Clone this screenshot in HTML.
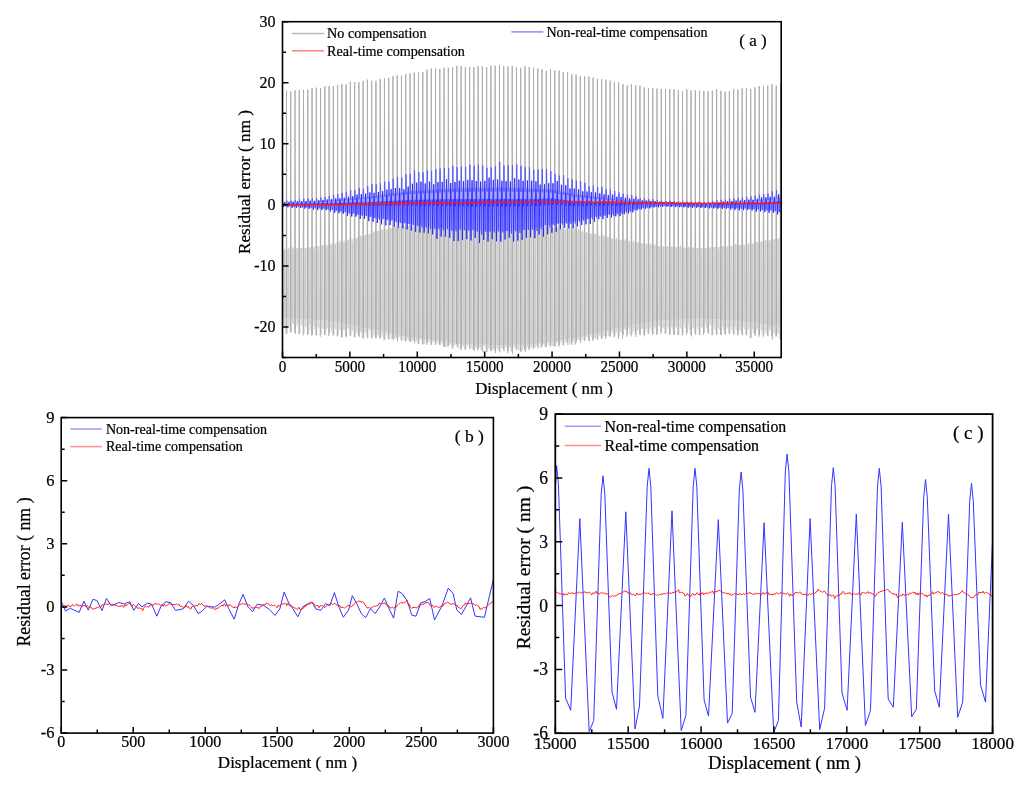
<!DOCTYPE html>
<html><head><meta charset="utf-8"><title>Residual error</title>
<style>html,body{margin:0;padding:0;background:#fff;} svg{display:block;}</style></head>
<body>
<svg width="1024" height="786" viewBox="0 0 1024 786">
<rect width="1024" height="786" fill="#fff"/>
<polygon points="282.5,249.3 284.5,249.17 286.5,249.05 288.5,248.92 290.5,248.8 292.5,248.67 294.5,248.55 296.5,248.42 298.5,248.3 300.5,248.17 302.5,248.04 304.5,247.92 306.5,247.79 308.5,247.49 310.5,247.2 312.5,246.9 314.5,246.6 316.5,246.31 318.5,246.01 320.5,245.72 322.5,245.42 324.5,245.13 326.5,244.83 328.5,244.54 330.5,244.24 332.5,243.77 334.5,243.27 336.5,242.77 338.5,242.27 340.5,241.77 342.5,241.27 344.5,240.77 346.5,240.27 348.5,239.77 350.5,239.27 352.5,238.77 354.5,238.27 356.5,237.71 358.5,237.12 360.5,236.52 362.5,235.92 364.5,235.33 366.5,234.73 368.5,234.14 370.5,233.54 372.5,232.95 374.5,232.35 376.5,231.75 378.5,231.16 380.5,230.63 382.5,230.19 384.5,229.76 386.5,229.32 388.5,228.88 390.5,228.45 392.5,228.01 394.5,227.58 396.5,227.14 398.5,226.95 400.5,226.78 402.5,226.62 404.5,226.45 406.5,226.29 408.5,226.12 410.5,225.96 412.5,225.79 414.5,225.62 416.5,225.49 418.5,225.44 420.5,225.38 422.5,225.33 424.5,225.28 426.5,225.23 428.5,225.18 430.5,225.13 432.5,225.08 434.5,225.03 436.5,224.97 438.5,224.92 440.5,224.87 442.5,224.82 444.5,224.77 446.5,224.72 448.5,224.67 450.5,224.62 452.5,224.56 454.5,224.51 456.5,224.5 458.5,224.5 460.5,224.5 462.5,224.5 464.5,224.5 466.5,224.5 468.5,224.5 470.5,224.5 472.5,224.5 474.5,224.5 476.5,224.5 478.5,224.5 480.5,224.5 482.5,224.5 484.5,224.5 486.5,224.5 488.5,224.5 490.5,224.5 492.5,224.5 494.5,224.5 496.5,224.5 498.5,224.51 500.5,224.57 502.5,224.63 504.5,224.69 506.5,224.75 508.5,224.81 510.5,224.87 512.5,224.93 514.5,224.99 516.5,225.04 518.5,225.1 520.5,225.16 522.5,225.22 524.5,225.28 526.5,225.34 528.5,225.4 530.5,225.46 532.5,225.55 534.5,225.77 536.5,225.99 538.5,226.21 540.5,226.43 542.5,226.65 544.5,226.87 546.5,227.08 548.5,227.3 550.5,227.52 552.5,227.74 554.5,227.96 556.5,228.18 558.5,228.39 560.5,228.61 562.5,228.83 564.5,229.05 566.5,229.27 568.5,229.49 570.5,229.71 572.5,229.92 574.5,230.29 576.5,230.73 578.5,231.17 580.5,231.61 582.5,232.05 584.5,232.48 586.5,232.92 588.5,233.36 590.5,233.8 592.5,234.24 594.5,234.68 596.5,235.12 598.5,235.56 600.5,236 602.5,236.44 604.5,236.88 606.5,237.32 608.5,237.76 610.5,238.2 612.5,238.64 614.5,239.08 616.5,239.52 618.5,239.84 620.5,240.16 622.5,240.49 624.5,240.81 626.5,241.13 628.5,241.46 630.5,241.78 632.5,242.1 634.5,242.43 636.5,242.75 638.5,243.07 640.5,243.4 642.5,243.72 644.5,244.04 646.5,244.37 648.5,244.69 650.5,245.01 652.5,245.34 654.5,245.66 656.5,245.98 658.5,246.31 660.5,246.53 662.5,246.61 664.5,246.69 666.5,246.77 668.5,246.85 670.5,246.92 672.5,247 674.5,247.08 676.5,247.16 678.5,247.24 680.5,247.32 682.5,247.4 684.5,247.48 686.5,247.55 688.5,247.63 690.5,247.71 692.5,247.79 694.5,247.87 696.5,247.95 698.5,248.03 700.5,248.11 702.5,248.18 704.5,248.06 706.5,247.89 708.5,247.72 710.5,247.55 712.5,247.38 714.5,247.21 716.5,247.04 718.5,246.86 720.5,246.69 722.5,246.52 724.5,246.35 726.5,246.18 728.5,246.01 730.5,245.84 732.5,245.66 734.5,245.49 736.5,245.32 738.5,245.15 740.5,244.98 742.5,244.81 744.5,244.64 746.5,244.43 748.5,244.06 750.5,243.69 752.5,243.31 754.5,242.94 756.5,242.57 758.5,242.2 760.5,241.83 762.5,241.46 764.5,241.09 766.5,240.72 768.5,240.35 770.5,239.98 772.5,239.61 774.5,239.24 776.5,238.87 778.5,238.5 780.5,238.13 780.5,327 778.5,326.65 776.5,326.3 774.5,325.95 772.5,325.6 770.5,325.26 768.5,324.91 766.5,324.56 764.5,324.21 762.5,323.86 760.5,323.51 758.5,323.16 756.5,322.81 754.5,322.47 752.5,322.12 750.5,321.77 748.5,321.42 746.5,321.07 744.5,320.89 742.5,320.75 740.5,320.61 738.5,320.47 736.5,320.33 734.5,320.19 732.5,320.06 730.5,319.92 728.5,319.78 726.5,319.64 724.5,319.5 722.5,319.36 720.5,319.22 718.5,319.08 716.5,318.94 714.5,318.81 712.5,318.67 710.5,318.53 708.5,318.39 706.5,318.25 704.5,318.11 702.5,318.02 700.5,318.11 698.5,318.2 696.5,318.3 694.5,318.39 692.5,318.48 690.5,318.57 688.5,318.67 686.5,318.76 684.5,318.85 682.5,318.94 680.5,319.04 678.5,319.13 676.5,319.22 674.5,319.31 672.5,319.41 670.5,319.5 668.5,319.59 666.5,319.69 664.5,319.78 662.5,319.87 660.5,319.96 658.5,320.22 656.5,320.59 654.5,320.96 652.5,321.33 650.5,321.7 648.5,322.07 646.5,322.44 644.5,322.81 642.5,323.18 640.5,323.55 638.5,323.92 636.5,324.29 634.5,324.66 632.5,325.03 630.5,325.39 628.5,325.76 626.5,326.13 624.5,326.5 622.5,326.87 620.5,327.24 618.5,327.61 616.5,327.98 614.5,328.44 612.5,328.9 610.5,329.37 608.5,329.83 606.5,330.29 604.5,330.75 602.5,331.22 600.5,331.68 598.5,332.14 596.5,332.61 594.5,333.07 592.5,333.53 590.5,334 588.5,334.46 586.5,334.92 584.5,335.38 582.5,335.85 580.5,336.31 578.5,336.77 576.5,337.24 574.5,337.7 572.5,338.1 570.5,338.39 568.5,338.68 566.5,338.98 564.5,339.27 562.5,339.56 560.5,339.85 558.5,340.14 556.5,340.43 554.5,340.72 552.5,341.01 550.5,341.31 548.5,341.6 546.5,341.89 544.5,342.18 542.5,342.47 540.5,342.76 538.5,343.05 536.5,343.34 534.5,343.64 532.5,343.93 530.5,344.04 528.5,344.1 526.5,344.16 524.5,344.22 522.5,344.28 520.5,344.34 518.5,344.4 516.5,344.46 514.5,344.52 512.5,344.58 510.5,344.64 508.5,344.7 506.5,344.76 504.5,344.82 502.5,344.88 500.5,344.93 498.5,344.99 496.5,344.92 494.5,344.82 492.5,344.73 490.5,344.64 488.5,344.55 486.5,344.45 484.5,344.36 482.5,344.27 480.5,344.18 478.5,344.09 476.5,343.99 474.5,343.9 472.5,343.81 470.5,343.72 468.5,343.62 466.5,343.53 464.5,343.44 462.5,343.35 460.5,343.25 458.5,343.16 456.5,343.07 454.5,342.93 452.5,342.65 450.5,342.38 448.5,342.1 446.5,341.82 444.5,341.54 442.5,341.26 440.5,340.99 438.5,340.71 436.5,340.43 434.5,340.15 432.5,339.88 430.5,339.6 428.5,339.32 426.5,339.04 424.5,338.76 422.5,338.49 420.5,338.21 418.5,337.93 416.5,337.65 414.5,337.38 412.5,337.1 410.5,336.73 408.5,336.31 406.5,335.9 404.5,335.48 402.5,335.07 400.5,334.65 398.5,334.24 396.5,333.82 394.5,333.4 392.5,332.99 390.5,332.57 388.5,332.16 386.5,331.74 384.5,331.33 382.5,330.91 380.5,330.49 378.5,330.08 376.5,329.66 374.5,329.25 372.5,328.83 370.5,328.42 368.5,328 366.5,327.63 364.5,327.26 362.5,326.9 360.5,326.53 358.5,326.16 356.5,325.79 354.5,325.43 352.5,325.06 350.5,324.69 348.5,324.32 346.5,323.95 344.5,323.59 342.5,323.22 340.5,322.85 338.5,322.48 336.5,322.11 334.5,321.75 332.5,321.38 330.5,321.01 328.5,320.64 326.5,320.28 324.5,319.96 322.5,319.82 320.5,319.68 318.5,319.54 316.5,319.4 314.5,319.26 312.5,319.12 310.5,318.98 308.5,318.84 306.5,318.69 304.5,318.55 302.5,318.41 300.5,318.27 298.5,318.13 296.5,317.99 294.5,317.85 292.5,317.71 290.5,317.56 288.5,317.42 286.5,317.28 284.5,317.14 282.5,317" fill="#e0e0e0"/>
<path d="M285.56,250.11V316.22M289.82,249.84V316.52M294.08,249.57V316.82M298.34,249.31V317.12M302.6,249.04V317.42M306.86,248.73V317.72M311.11,248.1V318.02M315.37,247.48V318.32M319.63,246.85V318.62M323.89,246.22V318.92M328.15,245.59V319.58M332.41,244.8V320.36M336.67,243.73V321.15M340.92,242.67V321.93M345.18,241.6V322.71M349.44,240.54V323.5M353.7,239.47V324.28M357.96,238.28V325.06M362.22,237.01V325.84M366.48,235.74V326.63M370.74,234.47V327.46M374.99,233.2V328.35M379.25,231.93V329.23M383.51,230.97V330.12M387.77,230.04V331.01M392.03,229.12V331.89M396.29,228.19V332.78M400.55,227.78V333.66M404.8,227.43V334.55M409.06,227.08V335.43M413.32,226.72V336.21M417.58,226.46V336.8M421.84,226.35V337.39M426.1,226.24V337.99M430.36,226.13V338.58M434.61,226.02V339.17M438.87,225.91V339.76M443.13,225.8V340.35M447.39,225.7V340.94M451.65,225.59V341.53M455.91,225.5V342.04M460.17,225.5V342.24M464.42,225.5V342.44M468.68,225.5V342.63M472.94,225.5V342.83M477.2,225.5V343.03M481.46,225.5V343.22M485.72,225.5V343.42M489.98,225.5V343.62M494.23,225.5V343.81M498.49,225.51V343.99M502.75,225.64V343.87M507.01,225.77V343.74M511.27,225.89V343.62M515.53,226.02V343.49M519.79,226.14V343.36M524.04,226.27V343.24M528.3,226.39V343.11M532.56,226.56V342.92M536.82,227.03V342.3M541.08,227.49V341.68M545.34,227.96V341.06M549.6,228.42V340.44M553.85,228.89V339.82M558.11,229.35V339.2M562.37,229.82V338.58M566.63,230.28V337.96M570.89,230.75V337.34M575.15,231.43V336.55M579.41,232.36V335.56M583.67,233.3V334.58M587.92,234.24V333.59M592.18,235.17V332.61M596.44,236.11V331.62M600.7,237.05V330.63M604.96,237.98V329.65M609.22,238.92V328.66M613.48,239.86V327.68M617.73,240.72V326.75M621.99,241.4V325.97M626.25,242.09V325.18M630.51,242.78V324.39M634.77,243.47V323.61M639.03,244.16V322.82M643.29,244.85V322.03M647.54,245.53V321.25M651.8,246.22V320.46M656.06,246.91V319.67M660.32,247.52V318.97M664.58,247.69V318.77M668.84,247.86V318.58M673.1,248.03V318.38M677.35,248.19V318.18M681.61,248.36V317.99M685.87,248.53V317.79M690.13,248.7V317.59M694.39,248.87V317.39M698.65,249.03V317.2M702.91,249.2V317M707.16,248.83V317.3M711.42,248.47V317.59M715.68,248.11V317.89M719.94,247.74V318.18M724.2,247.38V318.48M728.46,247.01V318.77M732.72,246.65V319.07M736.97,246.28V319.37M741.23,245.92V319.66M745.49,245.55V319.96M749.75,244.82V320.64M754.01,244.04V321.38M758.27,243.25V322.12M762.53,242.46V322.87M766.78,241.67V323.61M771.04,240.88V324.35M775.3,240.09V325.09M779.56,239.3V325.84" fill="none" stroke="#f2f2f2" stroke-width="0.6"/>
<path d="M283.97,325.16L284.37,250.91L284.77,325.91M288.23,325.49L288.63,247.93L289.03,326.87M292.49,322.76L292.89,247.23L293.29,324.42M296.75,326.12L297.15,248.29L297.55,323.68M301.01,323.86L301.41,247.67L301.81,326.26M305.26,326.38L305.66,249.04L306.06,327.12M309.52,324.86L309.92,247.69L310.32,330.29M313.78,325.99L314.18,249.37L314.58,329.64M318.04,326.93L318.44,247.16L318.84,328.65M322.3,327.77L322.7,245.15L323.1,329.18M326.56,329.18L326.96,246.46L327.36,327.34M330.82,327.63L331.22,244.34L331.62,331.65M335.07,328.46L335.47,245.39L335.87,329.57M339.33,329.04L339.73,241.16L340.13,330.64M343.59,329.8L343.99,242.24L344.39,330.6M347.85,328.41L348.25,240.79L348.65,329.03M352.11,331.1L352.51,242L352.91,330.76M356.37,331.09L356.77,237.99L357.17,333.51M360.63,331.96L361.03,235.73L361.43,333.35M364.88,332.6L365.28,235.02L365.68,333.3M369.14,329.84L369.54,235.48L369.94,331.38M373.4,333.84L373.8,231.35L374.2,336.42M377.66,334.01L378.06,230.75L378.46,336.75M381.92,333.92L382.32,229.16L382.72,337.54M386.18,334.45L386.58,229.37L386.98,335.4M390.44,334.06L390.84,227.87L391.24,339.31M394.69,338.87L395.09,226.17L395.49,337.1M398.95,337.36L399.35,227.14L399.75,336.86M403.21,336.37L403.61,225.24L404.01,340.58M407.47,338.04L407.87,225.74L408.27,340.15M411.73,341.17L412.13,226.81L412.53,340.46M415.99,341.43L416.39,225.48L416.79,341.27M420.25,339.88L420.65,227.25L421.05,339.16M424.5,343.95L424.9,227.11L425.3,339.88M428.76,341.69L429.16,226.22L429.56,339.7M433.02,341.94L433.42,225.15L433.82,341.48M437.28,340.45L437.68,225.61L438.08,343.29M441.54,342.03L441.94,223.83L442.34,344.29M445.8,347.17L446.2,223.11L446.6,345.94M450.06,344.06L450.46,225.56L450.86,345.1M454.31,345.32L454.71,221.92L455.11,344.8M458.57,347.69L458.97,224.56L459.37,344.44M462.83,346.08L463.23,224.44L463.63,346.59M467.09,344.76L467.49,225.11L467.89,345.85M471.35,346.63L471.75,222.91L472.15,349.8M475.61,347.53L476.01,221.36L476.41,347.93M479.87,346.85L480.27,224.29L480.67,349.65M484.12,346.62L484.52,224.03L484.92,345.35M488.38,348.66L488.78,224.63L489.18,348.6M492.64,350.13L493.04,225.17L493.44,348.4M496.9,348.83L497.3,224.58L497.7,348.17M501.16,347.56L501.56,224.27L501.96,348.46M505.42,346.85L505.82,225.73L506.22,347.64M509.68,347.14L510.08,225.02L510.48,348.72M513.94,347.57L514.34,224.67L514.74,347.07M518.19,349.79L518.59,223.96L518.99,350.18M522.45,350.64L522.85,224.93L523.25,347.51M526.71,348.65L527.11,224.16L527.51,346.54M530.97,347.04L531.37,225.77L531.77,346.81M535.23,346.78L535.63,227.91L536.03,347.42M539.49,342.56L539.89,224.44L540.29,347.29M543.75,344.38L544.15,225.78L544.55,346.44M548,342.65L548.4,226.99L548.8,344.69M552.26,345.53L552.66,228.8L553.06,346.06M556.52,342.74L556.92,227.58L557.32,341.96M560.78,343.01L561.18,229.66L561.58,340.67M565.04,341.43L565.44,230.15L565.84,342.88M569.3,341.99L569.7,227.11L570.1,343.88M573.56,340.13L573.96,228.5L574.36,344.93M577.81,339.94L578.21,228.63L578.61,339.69M582.07,339.32L582.47,230.32L582.87,338.66M586.33,336.76L586.73,232.14L587.13,337.09M590.59,334.9L590.99,233.45L591.39,336.88M594.85,338.64L595.25,233.44L595.65,337.67M599.11,335.35L599.51,236.04L599.91,336.25M603.37,336.21L603.77,235.17L604.17,335.49M607.62,331.27L608.02,237.12L608.42,336.45M611.88,331.58L612.28,238.58L612.68,332.93M616.14,333.22L616.54,237.9L616.94,331.67M620.4,332.32L620.8,239.83L621.2,333.15M624.66,329.01L625.06,239.34L625.46,330.33M628.92,328.65L629.32,240.82L629.72,333.85M633.18,331.73L633.58,240.64L633.98,330.81M637.43,330.9L637.83,242.14L638.23,329.49M641.69,329.05L642.09,243.2L642.49,328.68M645.95,331.48L646.35,243.83L646.75,328.77M650.21,328.09L650.61,243.43L651.01,330.39M654.47,326.59L654.87,244.24L655.27,328.68M658.73,325.21L659.13,246.14L659.53,326.67M662.99,327.25L663.39,246.74L663.79,328.33M667.24,326.61L667.64,246.07L668.04,328.63M671.5,326.71L671.9,246.37L672.3,329.24M675.76,327.24L676.16,247.52L676.56,327.35M680.02,327.03L680.42,245.41L680.82,329.06M684.28,324.29L684.68,248.53L685.08,327.96M688.54,324.58L688.94,246.8L689.34,330.01M692.8,328.82L693.2,247.61L693.6,327.66M697.05,326.92L697.45,248.03L697.85,329.43M701.31,327.1L701.71,249.35L702.11,328.46M705.57,323.85L705.97,248.82L706.37,327.84M709.83,325.55L710.23,246.72L710.63,324.66M714.09,325.7L714.49,247.37L714.89,329.3M718.35,327.77L718.75,249.07L719.15,329.98M722.61,326.09L723.01,246.61L723.41,329.76M726.87,327.34L727.27,247.91L727.67,328.47M731.12,326.95L731.52,246.87L731.92,330.26M735.38,326.51L735.78,243.74L736.18,330.5M739.64,329.29L740.04,244.91L740.44,330.83M743.9,326.95L744.3,245.65L744.7,329.82M748.16,329.76L748.56,243.68L748.96,329.12M752.42,328.96L752.82,243.91L753.22,332.5M756.68,330.02L757.08,241.87L757.48,328.16M760.93,329.62L761.33,242.33L761.73,331.99M765.19,329.77L765.59,240.06L765.99,333.19M769.45,330.47L769.85,241.34L770.25,329.54M773.71,332.72L774.11,239.57L774.51,333.43M777.97,333.59L778.37,239.51L778.77,333.8" fill="none" stroke="#cacaca" stroke-width="0.8"/>
<path d="M282.5,333.36L282.5,91.3L282.5,332.67M282.5,332.45L282.5,90.77L282.59,331.81M286.15,333.82L286.5,90.71L286.85,333.66M290.41,331.87L290.76,91.26L291.11,332.93M294.67,332.21L295.02,90.47L295.37,334.06M298.93,333.92L299.28,90.05L299.63,334.12M303.18,335.51L303.53,89.65L303.88,333.26M307.44,334.6L307.79,89.66L308.14,334.55M311.7,335.71L312.05,88.15L312.4,334.82M315.96,334.98L316.31,87.71L316.66,335.58M320.22,336.82L320.57,88.19L320.92,334.29M324.48,334.61L324.83,86.43L325.18,335.07M328.74,336.29L329.09,86.01L329.44,333.12M332.99,335.34L333.34,86.23L333.69,335.29M337.25,336.39L337.6,84.94L337.95,335.82M341.51,337.59L341.86,84.17L342.21,336.97M345.77,336.41L346.12,84.37L346.47,337.12M350.03,336.28L350.38,81.83L350.73,335.56M354.29,337.12L354.64,81.98L354.99,337.46M358.55,335.95L358.9,82.16L359.25,337.09M362.8,338.68L363.15,80.84L363.5,337.75M367.06,336.49L367.41,79.66L367.76,338.28M371.32,337.16L371.67,80.82L372.02,339.11M375.58,338.43L375.93,80.74L376.28,338.18M379.84,338.78L380.19,79.03L380.54,337.89M384.1,340.39L384.45,78.37L384.8,339.24M388.36,339.16L388.71,77.56L389.06,339.25M392.62,338.73L392.97,76.25L393.32,340.4M396.87,338.27L397.22,75.38L397.57,341.26M401.13,340.12L401.48,75.32L401.83,340.59M405.39,341.57L405.74,74.02L406.09,341.17M409.65,341.59L410,73.43L410.35,341.8M413.91,340.67L414.26,72.56L414.61,343.47M418.17,343.89L418.52,72.62L418.87,344M422.43,344.04L422.78,71.92L423.13,344.5M426.68,344.99L427.03,69.64L427.38,342.79M430.94,344.92L431.29,68.64L431.64,344.67M435.2,345.04L435.55,68.39L435.9,344.07M439.46,344.68L439.81,69.03L440.16,345.08M443.72,346.92L444.07,67.8L444.42,346.9M447.98,347.11L448.33,67.71L448.68,345.39M452.24,347.4L452.59,67.3L452.94,349.14M456.49,344.3L456.84,65.83L457.19,347.57M460.75,350L461.1,66.23L461.45,348.83M465.01,349.74L465.36,67.07L465.71,349.34M469.27,347.99L469.62,67.03L469.97,349.35M473.53,349.39L473.88,67.03L474.23,350.88M477.79,350.44L478.14,65.96L478.49,349.05M482.05,350.54L482.4,66.2L482.75,352.39M486.3,351.92L486.65,66.94L487,351.86M490.56,350.73L490.91,65.85L491.26,351.03M494.82,350.42L495.17,65.65L495.52,353.1M499.08,351.31L499.43,65.33L499.78,352.44M503.34,349.57L503.69,66.15L504.04,351.2M507.6,353.26L507.95,66.64L508.3,351.06M511.86,351.94L512.21,65.91L512.56,353.8M516.11,349.84L516.46,66.91L516.81,350.01M520.37,351.46L520.72,67.85L521.07,351.82M524.63,350.33L524.98,66.34L525.33,352.06M528.89,349.76L529.24,67.12L529.59,349.16M533.15,348.82L533.5,67.72L533.85,348.47M537.41,346.09L537.76,68.36L538.11,348.57M541.67,347.47L542.02,69.34L542.37,345.6M545.92,347.45L546.27,70.86L546.62,346.26M550.18,346.87L550.53,69.4L550.88,345.35M554.44,346.89L554.79,70.39L555.14,346.11M558.7,346.58L559.05,70.57L559.4,345.39M562.96,345.06L563.31,71.82L563.66,345.32M567.22,342.97L567.57,72.41L567.92,345.05M571.48,344.93L571.83,74.36L572.18,342.86M575.73,344.46L576.08,74.75L576.43,341.77M579.99,340.28L580.34,76.3L580.69,343.07M584.25,341.08L584.6,76.27L584.95,340.5M588.51,340.45L588.86,76.61L589.21,341.57M592.77,340.91L593.12,77.64L593.47,339.26M597.03,338.35L597.38,78.92L597.73,339.96M601.29,338.5L601.64,79.25L601.99,338.69M605.54,338.81L605.89,79.71L606.25,336.73M609.8,336.29L610.15,80.68L610.5,336.7M614.06,337.86L614.41,82.01L614.76,336.25M618.32,338.96L618.67,82.19L619.02,336.34M622.58,338.58L622.93,84.18L623.28,335.04M626.84,336.84L627.19,85.45L627.54,334.7M631.1,336.15L631.45,84.04L631.8,334.22M635.36,334.13L635.71,85.38L636.06,336.97M639.61,334.62L639.96,85.71L640.31,335.06M643.87,334.84L644.22,87.36L644.57,336.43M648.13,333.95L648.48,87.92L648.83,333.79M652.39,334.77L652.74,88.46L653.09,334.25M656.65,334.68L657,88.57L657.35,334.39M660.91,334.05L661.26,88.83L661.61,331.91M665.17,333.95L665.52,89.24L665.87,333.23M669.42,334.68L669.77,89.07L670.12,334.57M673.68,334.95L674.03,89.09L674.38,334.69M677.94,335.16L678.29,90.23L678.64,334.92M682.2,335.61L682.55,91.22L682.9,334.68M686.46,334.85L686.81,89.12L687.16,332.61M690.72,334.73L691.07,90.54L691.42,336.5M694.98,333.57L695.33,90.13L695.68,334.91M699.23,334.33L699.58,90.54L699.93,335.28M703.49,334.83L703.84,90.89L704.19,333.2M707.75,332.36L708.1,91.14L708.45,333.96M712.01,335.48L712.36,90.63L712.71,334.86M716.27,334.25L716.62,89.05L716.97,335.05M720.53,334.76L720.88,90.77L721.23,335.34M724.79,334.21L725.14,91.64L725.49,334.34M729.04,333.34L729.39,91.08L729.74,334.28M733.3,333.61L733.65,88.87L734,335.12M737.56,335.51L737.91,89.65L738.26,334.35M741.82,334.11L742.17,88.39L742.52,335.38M746.08,335.43L746.43,87.96L746.78,334.92M750.34,338.24L750.69,88.83L751.04,337.95M754.6,334.6L754.95,87.43L755.3,335.91M758.85,336.8L759.2,86L759.55,335.09M763.11,336.83L763.46,86.02L763.81,335.16M767.37,335.57L767.72,85.55L768.07,336.03M771.63,336.23L771.98,84.3L772.33,339.72M775.89,336.63L776.24,85.51L776.59,336.47M780.15,339.47L780.5,83.31L780.85,339.21M781.2,338.02L781.2,83.84L781.2,334.77" fill="none" stroke="#adadad" stroke-width="1"/>
<polygon points="282.5,202.8 284.5,202.72 286.5,202.65 288.5,202.57 290.5,202.5 292.5,202.42 294.5,202.35 296.5,202.27 298.5,202.2 300.5,202.12 302.5,202.05 304.5,201.97 306.5,201.9 308.5,201.82 310.5,201.75 312.5,201.67 314.5,201.6 316.5,201.52 318.5,201.44 320.5,201.37 322.5,201.29 324.5,201.22 326.5,201.05 328.5,200.85 330.5,200.65 332.5,200.45 334.5,200.25 336.5,200.05 338.5,199.85 340.5,199.65 342.5,199.45 344.5,199.25 346.5,199.05 348.5,198.85 350.5,198.65 352.5,198.45 354.5,198.25 356.5,198.05 358.5,197.85 360.5,197.65 362.5,197.45 364.5,197.25 366.5,197.05 368.5,196.85 370.5,196.58 372.5,196.31 374.5,196.05 376.5,195.78 378.5,195.51 380.5,195.24 382.5,194.97 384.5,194.71 386.5,194.44 388.5,194.17 390.5,193.9 392.5,193.64 394.5,193.37 396.5,193.1 398.5,192.83 400.5,192.56 402.5,192.3 404.5,192.03 406.5,191.76 408.5,191.49 410.5,191.22 412.5,191.01 414.5,190.89 416.5,190.76 418.5,190.64 420.5,190.52 422.5,190.4 424.5,190.28 426.5,190.16 428.5,190.03 430.5,189.91 432.5,189.79 434.5,189.67 436.5,189.55 438.5,189.42 440.5,189.3 442.5,189.18 444.5,189.06 446.5,188.94 448.5,188.82 450.5,188.69 452.5,188.57 454.5,188.45 456.5,188.39 458.5,188.36 460.5,188.33 462.5,188.29 464.5,188.26 466.5,188.22 468.5,188.19 470.5,188.16 472.5,188.12 474.5,188.09 476.5,188.05 478.5,188.02 480.5,187.98 482.5,187.95 484.5,187.92 486.5,187.88 488.5,187.85 490.5,187.81 492.5,187.78 494.5,187.74 496.5,187.71 498.5,187.68 500.5,187.73 502.5,187.78 504.5,187.83 506.5,187.88 508.5,187.93 510.5,187.98 512.5,188.03 514.5,188.08 516.5,188.13 518.5,188.17 520.5,188.22 522.5,188.27 524.5,188.32 526.5,188.37 528.5,188.42 530.5,188.51 532.5,188.6 534.5,188.69 536.5,188.78 538.5,188.87 540.5,188.96 542.5,189.04 544.5,189.13 546.5,189.22 548.5,189.31 550.5,189.4 552.5,189.65 554.5,190.09 556.5,190.54 558.5,190.98 560.5,191.43 562.5,191.87 564.5,192.32 566.5,192.76 568.5,193.21 570.5,193.65 572.5,194.09 574.5,194.4 576.5,194.64 578.5,194.87 580.5,195.11 582.5,195.34 584.5,195.57 586.5,195.81 588.5,196.04 590.5,196.28 592.5,196.51 594.5,196.74 596.5,196.99 598.5,197.23 600.5,197.47 602.5,197.72 604.5,197.96 606.5,198.2 608.5,198.45 610.5,198.69 612.5,198.94 614.5,199.18 616.5,199.42 618.5,199.57 620.5,199.73 622.5,199.89 624.5,200.04 626.5,200.2 628.5,200.36 630.5,200.51 632.5,200.67 634.5,200.83 636.5,200.98 638.5,201.13 640.5,201.26 642.5,201.39 644.5,201.52 646.5,201.65 648.5,201.78 650.5,201.91 652.5,202.04 654.5,202.16 656.5,202.29 658.5,202.42 660.5,202.52 662.5,202.58 664.5,202.64 666.5,202.7 668.5,202.76 670.5,202.82 672.5,202.89 674.5,202.95 676.5,203.01 678.5,203.07 680.5,203.13 682.5,203.19 684.5,203.25 686.5,203.31 688.5,203.37 690.5,203.43 692.5,203.49 694.5,203.55 696.5,203.61 698.5,203.67 700.5,203.73 702.5,203.79 704.5,203.7 706.5,203.57 708.5,203.45 710.5,203.33 712.5,203.2 714.5,203.07 716.5,202.95 718.5,202.83 720.5,202.7 722.5,202.57 724.5,202.45 726.5,202.32 728.5,202.2 730.5,202.07 732.5,201.95 734.5,201.82 736.5,201.7 738.5,201.57 740.5,201.45 742.5,201.33 744.5,201.2 746.5,201.06 748.5,200.89 750.5,200.71 752.5,200.54 754.5,200.36 756.5,200.19 758.5,200.01 760.5,199.83 762.5,199.66 764.5,199.48 766.5,199.31 768.5,199.13 770.5,198.88 772.5,198.38 774.5,197.89 776.5,197.39 778.5,196.9 780.5,196.4 780.5,212.5 778.5,212.12 776.5,211.74 774.5,211.36 772.5,210.98 770.5,210.6 768.5,210.38 766.5,210.22 764.5,210.06 762.5,209.9 760.5,209.73 758.5,209.57 756.5,209.41 754.5,209.25 752.5,209.09 750.5,208.93 748.5,208.77 746.5,208.61 744.5,208.53 742.5,208.46 740.5,208.4 738.5,208.34 736.5,208.28 734.5,208.22 732.5,208.16 730.5,208.1 728.5,208.04 726.5,207.97 724.5,207.91 722.5,207.85 720.5,207.79 718.5,207.73 716.5,207.67 714.5,207.61 712.5,207.54 710.5,207.48 708.5,207.42 706.5,207.36 704.5,207.3 702.5,207.24 700.5,207.18 698.5,207.12 696.5,207.06 694.5,207 692.5,206.94 690.5,206.88 688.5,206.82 686.5,206.76 684.5,206.7 682.5,206.64 680.5,206.58 678.5,206.52 676.5,206.46 674.5,206.4 672.5,206.34 670.5,206.27 668.5,206.21 666.5,206.15 664.5,206.09 662.5,206.03 660.5,205.97 658.5,206.1 656.5,206.34 654.5,206.58 652.5,206.82 650.5,207.06 648.5,207.3 646.5,207.55 644.5,207.79 642.5,208.03 640.5,208.27 638.5,208.51 636.5,208.92 634.5,209.39 632.5,209.86 630.5,210.32 628.5,210.79 626.5,211.26 624.5,211.72 622.5,212.19 620.5,212.66 618.5,213.12 616.5,213.59 614.5,213.88 612.5,214.17 610.5,214.45 608.5,214.73 606.5,215.02 604.5,215.3 602.5,215.58 600.5,215.87 598.5,216.15 596.5,216.43 594.5,216.74 592.5,217.2 590.5,217.65 588.5,218.1 586.5,218.55 584.5,219.01 582.5,219.46 580.5,219.91 578.5,220.36 576.5,220.82 574.5,221.27 572.5,221.65 570.5,221.9 568.5,222.14 566.5,222.39 564.5,222.64 562.5,222.89 560.5,223.14 558.5,223.38 556.5,223.63 554.5,223.88 552.5,224.13 550.5,224.49 548.5,224.94 546.5,225.39 544.5,225.85 542.5,226.3 540.5,226.75 538.5,227.21 536.5,227.66 534.5,228.11 532.5,228.57 530.5,229.02 528.5,229.47 526.5,229.59 524.5,229.7 522.5,229.81 520.5,229.92 518.5,230.03 516.5,230.14 514.5,230.25 512.5,230.36 510.5,230.47 508.5,230.58 506.5,230.7 504.5,230.81 502.5,230.92 500.5,231.03 498.5,231.14 496.5,231.08 494.5,231 492.5,230.93 490.5,230.85 488.5,230.77 486.5,230.69 484.5,230.62 482.5,230.54 480.5,230.46 478.5,230.38 476.5,230.31 474.5,230.23 472.5,230.15 470.5,230.07 468.5,230 466.5,229.92 464.5,229.84 462.5,229.77 460.5,229.69 458.5,229.61 456.5,229.53 454.5,229.42 452.5,229.2 450.5,228.98 448.5,228.75 446.5,228.53 444.5,228.31 442.5,228.09 440.5,227.87 438.5,227.65 436.5,227.42 434.5,227.2 432.5,226.98 430.5,226.76 428.5,226.54 426.5,226.32 424.5,226.09 422.5,225.87 420.5,225.65 418.5,225.43 416.5,225.21 414.5,224.99 412.5,224.77 410.5,224.45 408.5,224.08 406.5,223.71 404.5,223.34 402.5,222.97 400.5,222.6 398.5,222.23 396.5,221.86 394.5,221.49 392.5,221.12 390.5,220.75 388.5,220.38 386.5,220.01 384.5,219.64 382.5,219.27 380.5,218.9 378.5,218.54 376.5,218.17 374.5,217.8 372.5,217.43 370.5,217.06 368.5,216.69 366.5,216.32 364.5,215.95 362.5,215.58 360.5,215.21 358.5,214.85 356.5,214.48 354.5,214.11 352.5,213.74 350.5,213.37 348.5,213 346.5,212.64 344.5,212.27 342.5,211.9 340.5,211.53 338.5,211.16 336.5,210.79 334.5,210.42 332.5,210.06 330.5,209.69 328.5,209.32 326.5,208.95 324.5,208.65 322.5,208.53 320.5,208.42 318.5,208.3 316.5,208.19 314.5,208.08 312.5,207.96 310.5,207.85 308.5,207.73 306.5,207.62 304.5,207.51 302.5,207.39 300.5,207.28 298.5,207.16 296.5,207.05 294.5,206.93 292.5,206.82 290.5,206.71 288.5,206.59 286.5,206.48 284.5,206.36 282.5,206.25" fill="#a4a4ff"/>
<path d="M286.35,202.97L286.8,200.58L287.25,202.97M290.61,202.85L291.06,200.44L291.51,202.85M294.87,202.72L295.32,199.89L295.77,202.72M299.13,202.6L299.58,199.42L300.03,202.6M303.38,202.47L303.83,198.86L304.28,202.47M307.64,202.35L308.09,198.76L308.54,202.35M311.9,202.22L312.35,198.39L312.8,202.22M316.16,202.1L316.61,198.19L317.06,202.1M320.42,201.97L320.87,197.64L321.32,201.97M324.68,201.84L325.13,197.25L325.58,201.84M328.94,201.52L329.39,196.19L329.84,201.52M333.19,201.2L333.64,194.77L334.09,201.2M337.45,200.88L337.9,194.14L338.35,200.88M341.71,200.56L342.16,192.82L342.61,200.56M345.97,200.24L346.42,191.73L346.87,200.24M350.23,199.92L350.68,190.12L351.13,199.92M354.49,199.6L354.94,190.17L355.39,199.6M358.75,199.28L359.2,187.91L359.65,199.28M363,198.95L363.45,188.77L363.9,198.95M367.26,198.63L367.71,186.07L368.16,198.63M371.52,198.21L371.97,184.02L372.42,198.21M375.78,197.75L376.23,184.26L376.68,197.75M380.04,197.3L380.49,183.25L380.94,197.3M384.3,196.85L384.75,181.48L385.2,196.85M388.56,196.4L389.01,181.84L389.46,196.4M392.82,195.94L393.27,178.79L393.72,195.94M397.07,195.49L397.52,177.14L397.97,195.49M401.33,195.04L401.78,177.54L402.23,195.04M405.59,194.59L406.04,174.3L406.49,194.59M409.85,194.13L410.3,173.92L410.75,194.13M414.11,193.85L414.56,170.59L415.01,193.85M418.37,193.65L418.82,172.22L419.27,193.65M422.63,193.46L423.08,172.49L423.53,193.46M426.88,193.26L427.33,170.43L427.78,193.26M431.14,193.07L431.59,170.81L432.04,193.07M435.4,192.87L435.85,169.09L436.3,192.87M439.66,192.67L440.11,168.57L440.56,192.67M443.92,192.48L444.37,167.93L444.82,192.48M448.18,192.28L448.63,168.11L449.08,192.28M452.44,192.09L452.89,165.76L453.34,192.09M456.69,191.96L457.14,167.26L457.59,191.96M460.95,191.91L461.4,166.54L461.85,191.91M465.21,191.86L465.66,166.95L466.11,191.86M469.47,191.81L469.92,164.65L470.37,191.81M473.73,191.76L474.18,165.76L474.63,191.76M477.99,191.7L478.44,164.36L478.89,191.7M482.25,191.65L482.7,165.4L483.15,191.65M486.5,191.6L486.95,167.83L487.4,191.6M490.76,191.55L491.21,167.44L491.66,191.55M495.02,191.49L495.47,166.24L495.92,191.49M499.28,191.49L499.73,161.88L500.18,191.49M503.54,191.56L503.99,165.48L504.44,191.56M507.8,191.63L508.25,165.38L508.7,191.63M512.06,191.71L512.51,165L512.96,191.71M516.31,191.78L516.76,164.32L517.21,191.78M520.57,191.86L521.02,165.89L521.47,191.86M524.83,191.93L525.28,167.3L525.73,191.93M529.09,192.01L529.54,167.29L529.99,192.01M533.35,192.1L533.8,169.52L534.25,192.1M537.61,192.19L538.06,169.57L538.51,192.19M541.87,192.28L542.32,169.16L542.77,192.28M546.12,192.37L546.57,169.15L547.02,192.37M550.38,192.46L550.83,171.07L551.28,192.46M554.64,193.15L555.09,173.91L555.54,193.15M558.9,193.96L559.35,175.49L559.8,193.96M563.16,194.78L563.61,175.17L564.06,194.78M567.42,195.6L567.87,178.36L568.32,195.6M571.68,196.42L572.13,179.58L572.58,196.42M575.93,196.9L576.38,180.63L576.83,196.9M580.19,197.27L580.64,181.43L581.09,197.27M584.45,197.65L584.9,182.8L585.35,197.65M588.71,198.02L589.16,186.26L589.61,198.02M592.97,198.39L593.42,185.52L593.87,198.39M597.23,198.79L597.68,187.18L598.13,198.79M601.49,199.22L601.94,186.86L602.39,199.22M605.74,199.64L606.19,189.23L606.64,199.64M610,200.06L610.45,189.87L610.9,200.06M614.26,200.48L614.71,191.02L615.16,200.48M618.52,200.78L618.97,192.47L619.42,200.78M622.78,200.99L623.23,193.73L623.68,200.99M627.04,201.21L627.49,194.58L627.94,201.21M631.3,201.43L631.75,195.04L632.2,201.43M635.56,201.65L636.01,196.5L636.46,201.65M639.81,201.86L640.26,198.16L640.71,201.86M644.07,202.07L644.52,198.16L644.97,202.07M648.33,202.27L648.78,199.11L649.23,202.27M652.59,202.48L653.04,199.37L653.49,202.48M656.85,202.68L657.3,200.23L657.75,202.68M661.11,202.86L661.56,200.62L662.01,202.86M665.37,202.98L665.82,200.77L666.27,202.98M669.62,203.11L670.07,200.72L670.52,203.11M673.88,203.24L674.33,201.16L674.78,203.24M678.14,203.37L678.59,201.01L679.04,203.37M682.4,203.5L682.85,201.42L683.3,203.5M686.66,203.62L687.11,201.57L687.56,203.62M690.92,203.75L691.37,201.48L691.82,203.75M695.18,203.88L695.63,201.81L696.08,203.88M699.43,204.01L699.88,201.84L700.33,204.01M703.69,204.03L704.14,201.71L704.59,204.03M707.95,203.8L708.4,201.53L708.85,203.8M712.21,203.57L712.66,200.92L713.11,203.57M716.47,203.34L716.92,200.26L717.37,203.34M720.73,203.11L721.18,199.88L721.63,203.11M724.99,202.87L725.44,199.72L725.89,202.87M729.24,202.64L729.69,198.61L730.14,202.64M733.5,202.41L733.95,198.25L734.4,202.41M737.76,202.18L738.21,198.08L738.66,202.18M742.02,201.95L742.47,197.64L742.92,201.95M746.28,201.7L746.73,196.81L747.18,201.7M750.54,201.39L750.99,196.37L751.44,201.39M754.8,201.08L755.25,195.54L755.7,201.08M759.05,200.77L759.5,194.57L759.95,200.77M763.31,200.46L763.76,194.11L764.21,200.46M767.57,200.14L768.02,193.54L768.47,200.14M771.83,199.52L772.28,191.41L772.73,199.52M776.09,198.63L776.54,190L776.99,198.63" fill="none" stroke="#5858ff" stroke-width="0.9"/>
<path d="M285.29,203.7L285.74,206.25L286.19,203.7M289.54,203.64L289.99,206.29L290.44,203.64M293.8,203.59L294.25,207.14L294.7,203.59M298.06,203.53L298.51,206.91L298.96,203.53M302.32,203.48L302.77,207.42L303.22,203.48M306.58,203.42L307.03,207.55L307.48,203.42M310.84,203.37L311.29,207.52L311.74,203.37M315.1,203.31L315.55,208.41L316,203.31M319.35,203.26L319.8,208.36L320.25,203.26M323.61,203.2L324.06,208.52L324.51,203.2M327.87,203.15L328.32,209.49L328.77,203.15M332.13,203.04L332.58,209.93L333.03,203.04M336.39,202.93L336.84,210.62L337.29,202.93M340.65,202.82L341.1,211.37L341.55,202.82M344.91,202.71L345.36,211.87L345.81,202.71M349.16,202.6L349.61,213.63L350.06,202.6M353.42,202.49L353.87,213.45L354.32,202.49M357.68,202.38L358.13,214.4L358.58,202.38M361.94,202.27L362.39,215.61L362.84,202.27M366.2,202.16L366.65,215.75L367.1,202.16M370.46,202.05L370.91,216.61L371.36,202.05M374.72,201.85L375.17,218.14L375.62,201.85M378.97,201.63L379.42,219.66L379.87,201.63M383.23,201.42L383.68,218.32L384.13,201.42M387.49,201.2L387.94,219.16L388.39,201.2M391.75,200.98L392.2,219.6L392.65,200.98M396.01,200.77L396.46,222.08L396.91,200.77M400.27,200.55L400.72,222.77L401.17,200.55M404.53,200.33L404.98,223.14L405.43,200.33M408.78,200.12L409.23,223.92L409.68,200.12M413.04,199.9L413.49,224.73L413.94,199.9M417.3,199.78L417.75,226.06L418.2,199.78M421.56,199.71L422.01,227.34L422.46,199.71M425.82,199.64L426.27,227.65L426.72,199.64M430.08,199.58L430.53,229.18L430.98,199.58M434.34,199.51L434.79,229.06L435.24,199.51M438.59,199.44L439.04,229.35L439.49,199.44M442.85,199.37L443.3,230.45L443.75,199.37M447.11,199.3L447.56,229.34L448.01,199.3M451.37,199.23L451.82,230.94L452.27,199.23M455.63,199.16L456.08,231.4L456.53,199.16M459.89,199.12L460.34,229.3L460.79,199.12M464.15,199.11L464.6,230.17L465.05,199.11M468.41,199.1L468.86,230.78L469.31,199.1M472.66,199.09L473.11,229.74L473.56,199.09M476.92,199.08L477.37,231.58L477.82,199.08M481.18,199.07L481.63,234.47L482.08,199.07M485.44,199.06L485.89,231.81L486.34,199.06M489.7,199.05L490.15,231.76L490.6,199.05M493.96,199.04L494.41,232.41L494.86,199.04M498.22,199.03L498.67,231.38L499.12,199.03M502.47,199.03L502.92,232.43L503.37,199.03M506.73,199.04L507.18,230.9L507.63,199.04M510.99,199.06L511.44,233.48L511.89,199.06M515.25,199.07L515.7,231.32L516.15,199.07M519.51,199.09L519.96,232.96L520.41,199.09M523.77,199.1L524.22,230.04L524.67,199.1M528.03,199.12L528.48,230.02L528.93,199.12M532.28,199.1L532.73,229.7L533.18,199.1M536.54,198.99L536.99,230.96L537.44,198.99M540.8,198.88L541.25,229.39L541.7,198.88M545.06,198.77L545.51,224.78L545.96,198.77M549.32,198.66L549.77,227.25L550.22,198.66M553.58,198.55L554.03,225.23L554.48,198.55M557.84,198.99L558.29,223.47L558.74,198.99M562.09,199.55L562.54,224.53L562.99,199.55M566.35,200.11L566.8,223.52L567.25,200.11M570.61,200.67L571.06,224.05L571.51,200.67M574.87,201.23L575.32,223.44L575.77,201.23M579.13,201.46L579.58,221.6L580.03,201.46M583.39,201.58L583.84,220.92L584.29,201.58M587.65,201.7L588.1,219.18L588.55,201.7M591.9,201.81L592.35,219.25L592.8,201.81M596.16,201.93L596.61,217.56L597.06,201.93M600.42,202.12L600.87,216.62L601.32,202.12M604.68,202.35L605.13,215.68L605.58,202.35M608.94,202.57L609.39,214.47L609.84,202.57M613.2,202.8L613.65,215.74L614.1,202.8M617.46,203.03L617.91,214.39L618.36,203.03M621.71,203.11L622.16,214.18L622.61,203.11M625.97,203.09L626.42,212.58L626.87,203.09M630.23,203.08L630.68,211.96L631.13,203.08M634.49,203.07L634.94,210.16L635.39,203.07M638.75,203.06L639.2,209.28L639.65,203.06M643.01,203.09L643.46,208.27L643.91,203.09M647.27,203.16L647.72,207.8L648.17,203.16M651.52,203.22L651.97,207.2L652.42,203.22M655.78,203.29L656.23,207L656.68,203.29M660.04,203.36L660.49,206.5L660.94,203.36M664.3,203.46L664.75,206.01L665.2,203.46M668.56,203.58L669.01,206.4L669.46,203.58M672.82,203.71L673.27,206.32L673.72,203.71M677.08,203.84L677.53,206.62L677.98,203.84M681.34,203.97L681.79,206.62L682.24,203.97M685.59,204.1L686.04,206.83L686.49,204.1M689.85,204.22L690.3,207.14L690.75,204.22M694.11,204.35L694.56,207.09L695.01,204.35M698.37,204.48L698.82,207.1L699.27,204.48M702.63,204.61L703.08,207.2L703.53,204.61M706.89,204.65L707.34,207.36L707.79,204.65M711.15,204.49L711.6,207.57L712.05,204.49M715.4,204.33L715.85,207.78L716.3,204.33M719.66,204.16L720.11,207.68L720.56,204.16M723.92,204L724.37,207.82L724.82,204M728.18,203.84L728.63,207.94L729.08,203.84M732.44,203.68L732.89,208.36L733.34,203.68M736.7,203.51L737.15,208.44L737.6,203.51M740.96,203.35L741.41,208.81L741.86,203.35M745.21,203.19L745.66,208.5L746.11,203.19M749.47,203.02L749.92,208.81L750.37,203.02M753.73,202.84L754.18,209.15L754.63,202.84M757.99,202.65L758.44,209.39L758.89,202.65M762.25,202.46L762.7,210.09L763.15,202.46M766.51,202.27L766.96,210.28L767.41,202.27M770.77,202.09L771.22,209.93L771.67,202.09M775.02,201.7L775.47,211.11L775.92,201.7M779.28,201.13L779.73,212.09L780.18,201.13" fill="none" stroke="#4a4aff" stroke-width="0.8"/>
<path d="M284.22,204.3L284.67,201.93L285.12,204.3M283.16,203.7L283.61,207.05L284.06,203.7M288.48,204.32L288.93,201.82L289.38,204.32M287.41,203.64L287.86,207.29L288.31,203.64M292.74,204.33L293.19,201.7L293.64,204.33M291.67,203.59L292.12,207.83L292.57,203.59M297,204.35L297.45,201.13L297.9,204.35M295.93,203.53L296.38,207.85L296.83,203.53M301.26,204.36L301.71,201.2L302.16,204.36M300.19,203.48L300.64,207.97L301.09,203.48M305.51,204.38L305.96,201.01L306.41,204.38M304.45,203.42L304.9,208.64L305.35,203.42M309.77,204.39L310.22,200.6L310.67,204.39M308.71,203.37L309.16,208.86L309.61,203.37M314.03,204.41L314.48,200.88L314.93,204.41M312.97,203.31L313.42,209.75L313.87,203.31M318.29,204.42L318.74,200.08L319.19,204.42M317.22,203.26L317.67,209.98L318.12,203.26M322.55,204.44L323,199.93L323.45,204.44M321.48,203.2L321.93,210L322.38,203.2M326.81,204.45L327.26,199.47L327.71,204.45M325.74,203.15L326.19,210.23L326.64,203.15M331.07,204.55L331.52,199.02L331.97,204.55M330,203.04L330.45,211.54L330.9,203.04M335.32,204.65L335.77,198.36L336.22,204.65M334.26,202.93L334.71,212.74L335.16,202.93M339.58,204.75L340.03,198.38L340.48,204.75M338.52,202.82L338.97,213.21L339.42,202.82M343.84,204.85L344.29,197.76L344.74,204.85M342.78,202.71L343.23,213.68L343.68,202.71M348.1,204.95L348.55,196.78L349,204.95M347.04,202.6L347.49,215.85L347.94,202.6M352.36,205.06L352.81,196.19L353.26,205.06M351.29,202.49L351.74,216.47L352.19,202.49M356.62,205.16L357.07,194.64L357.52,205.16M355.55,202.38L356,216.51L356.45,202.38M360.88,205.26L361.33,194.1L361.78,205.26M359.81,202.27L360.26,218.93L360.71,202.27M365.13,205.36L365.58,193.71L366.03,205.36M364.07,202.16L364.52,218.78L364.97,202.16M369.39,205.46L369.84,192.35L370.29,205.46M368.33,202.05L368.78,221.1L369.23,202.05M373.65,205.49L374.1,192.89L374.55,205.49M372.59,201.85L373.04,221.8L373.49,201.85M377.91,205.51L378.36,192.04L378.81,205.51M376.85,201.63L377.3,222.99L377.75,201.63M382.17,205.53L382.62,191.04L383.07,205.53M381.1,201.42L381.55,224.38L382,201.42M386.43,205.55L386.88,189.66L387.33,205.55M385.36,201.2L385.81,225.31L386.26,201.2M390.69,205.57L391.14,189.15L391.59,205.57M389.62,200.98L390.07,225.1L390.52,200.98M394.94,205.59L395.39,188.14L395.84,205.59M393.88,200.77L394.33,226.6L394.78,200.77M399.2,205.61L399.65,187.96L400.1,205.61M398.14,200.55L398.59,227.64L399.04,200.55M403.46,205.63L403.91,189.29L404.36,205.63M402.4,200.33L402.85,228.39L403.3,200.33M407.72,205.65L408.17,186.61L408.62,205.65M406.66,200.12L407.11,229.27L407.56,200.12M411.98,205.67L412.43,183.78L412.88,205.67M410.91,199.9L411.36,230.51L411.81,199.9M416.24,205.71L416.69,182.64L417.14,205.71M415.17,199.78L415.62,231.92L416.07,199.78M420.5,205.77L420.95,181.81L421.4,205.77M419.43,199.71L419.88,232.48L420.33,199.71M424.75,205.83L425.2,183.46L425.65,205.83M423.69,199.64L424.14,232.57L424.59,199.64M429.01,205.89L429.46,181.68L429.91,205.89M427.95,199.58L428.4,233.29L428.85,199.58M433.27,205.95L433.72,184.25L434.17,205.95M432.21,199.51L432.66,234.31L433.11,199.51M437.53,206.01L437.98,182.15L438.43,206.01M436.47,199.44L436.92,238.83L437.37,199.44M441.79,206.06L442.24,181.85L442.69,206.06M440.72,199.37L441.17,236.63L441.62,199.37M446.05,206.12L446.5,179.19L446.95,206.12M444.98,199.3L445.43,236.44L445.88,199.3M450.31,206.18L450.76,182.99L451.21,206.18M449.24,199.23L449.69,237.9L450.14,199.23M454.56,206.24L455.01,181.99L455.46,206.24M453.5,199.16L453.95,241.05L454.4,199.16M458.82,206.29L459.27,180.73L459.72,206.29M457.76,199.12L458.21,241.07L458.66,199.12M463.08,206.32L463.53,181.05L463.98,206.32M462.02,199.11L462.47,239.8L462.92,199.11M467.34,206.35L467.79,179.87L468.24,206.35M466.28,199.1L466.73,239.12L467.18,199.1M471.6,206.38L472.05,180.12L472.5,206.38M470.53,199.09L470.98,240.44L471.43,199.09M475.86,206.41L476.31,181.01L476.76,206.41M474.79,199.08L475.24,237.81L475.69,199.08M480.12,206.44L480.57,181.59L481.02,206.44M479.05,199.07L479.5,243L479.95,199.07M484.37,206.47L484.82,180.89L485.27,206.47M483.31,199.06L483.76,239.99L484.21,199.06M488.63,206.5L489.08,177.71L489.53,206.5M487.57,199.05L488.02,241.6L488.47,199.05M492.89,206.53L493.34,179.84L493.79,206.53M491.83,199.04L492.28,239.23L492.73,199.04M497.15,206.56L497.6,179.5L498.05,206.56M496.09,199.03L496.54,241.19L496.99,199.03M501.41,206.57L501.86,180.78L502.31,206.57M500.34,199.03L500.79,241.55L501.24,199.03M505.67,206.52L506.12,181.14L506.57,206.52M504.6,199.04L505.05,239.5L505.5,199.04M509.93,206.48L510.38,181.52L510.83,206.48M508.86,199.06L509.31,237.82L509.76,199.06M514.19,206.43L514.64,178.31L515.09,206.43M513.12,199.07L513.57,241.42L514.02,199.07M518.44,206.39L518.89,179.57L519.34,206.39M517.38,199.09L517.83,240.61L518.28,199.09M522.7,206.35L523.15,180.86L523.6,206.35M521.64,199.1L522.09,239.98L522.54,199.1M526.96,206.3L527.41,180.39L527.86,206.3M525.9,199.12L526.35,237.86L526.8,199.12M531.22,206.19L531.67,180.71L532.12,206.19M530.15,199.1L530.6,237.3L531.05,199.1M535.48,205.88L535.93,181.37L536.38,205.88M534.41,198.99L534.86,238.11L535.31,198.99M539.74,205.57L540.19,184.53L540.64,205.57M538.67,198.88L539.12,234.57L539.57,198.88M544,205.26L544.45,184.31L544.9,205.26M542.93,198.77L543.38,236.66L543.83,198.77M548.25,204.94L548.7,183.15L549.15,204.94M547.19,198.66L547.64,234.23L548.09,198.66M552.51,204.63L552.96,183.27L553.41,204.63M551.45,198.55L551.9,232.81L552.35,198.55M556.77,204.83L557.22,181.16L557.67,204.83M555.71,198.99L556.16,231.85L556.61,198.99M561.03,205.13L561.48,184.78L561.93,205.13M559.97,199.55L560.42,229.26L560.87,199.55M565.29,205.44L565.74,185.29L566.19,205.44M564.22,200.11L564.67,227.74L565.12,200.11M569.55,205.74L570,188.52L570.45,205.74M568.48,200.67L568.93,228.42L569.38,200.67M573.81,206.05L574.26,188.63L574.71,206.05M572.74,201.23L573.19,228.27L573.64,201.23M578.06,206.02L578.51,189.38L578.96,206.02M577,201.46L577.45,226.39L577.9,201.46M582.32,205.89L582.77,191.27L583.22,205.89M581.26,201.58L581.71,224.92L582.16,201.58M586.58,205.75L587.03,191.46L587.48,205.75M585.52,201.7L585.97,224.3L586.42,201.7M590.84,205.61L591.29,192.22L591.74,205.61M589.78,201.81L590.23,224.05L590.68,201.81M595.1,205.47L595.55,192.45L596,205.47M594.03,201.93L594.48,221.72L594.93,201.93M599.36,205.45L599.81,193.28L600.26,205.45M598.29,202.12L598.74,219.22L599.19,202.12M603.62,205.48L604.07,194.44L604.52,205.48M602.55,202.35L603,219.12L603.45,202.35M607.87,205.51L608.32,195.1L608.77,205.51M606.81,202.57L607.26,217.89L607.71,202.57M612.13,205.54L612.58,194.55L613.03,205.54M611.07,202.8L611.52,217.35L611.97,202.8M616.39,205.57L616.84,196.73L617.29,205.57M615.33,203.03L615.78,216.34L616.23,203.03M620.65,205.44L621.1,197.02L621.55,205.44M619.59,203.11L620.04,216.19L620.49,203.11M624.91,205.19L625.36,197.69L625.81,205.19M623.84,203.09L624.29,214.24L624.74,203.09M629.17,204.95L629.62,198.53L630.07,204.95M628.1,203.08L628.55,213.35L629,203.08M633.43,204.71L633.88,198.71L634.33,204.71M632.36,203.07L632.81,212.37L633.26,203.07M637.68,204.46L638.13,199.32L638.58,204.46M636.62,203.06L637.07,210.41L637.52,203.06M641.94,204.31L642.39,200.18L642.84,204.31M640.88,203.09L641.33,209.56L641.78,203.09M646.2,204.24L646.65,200.54L647.1,204.24M645.14,203.16L645.59,208.97L646.04,203.16M650.46,204.18L650.91,200.91L651.36,204.18M649.4,203.22L649.85,208.39L650.3,203.22M654.72,204.11L655.17,201.06L655.62,204.11M653.65,203.29L654.1,207.41L654.55,203.29M658.98,204.04L659.43,201.67L659.88,204.04M657.91,203.36L658.36,207.34L658.81,203.36M663.24,204.06L663.69,202L664.14,204.06M662.17,203.46L662.62,206.89L663.07,203.46M667.49,204.18L667.94,202.01L668.39,204.18M666.43,203.58L666.88,206.69L667.33,203.58M671.75,204.31L672.2,202.02L672.65,204.31M670.69,203.71L671.14,206.98L671.59,203.71M676.01,204.44L676.46,202.31L676.91,204.44M674.95,203.84L675.4,207.11L675.85,203.84M680.27,204.57L680.72,202.41L681.17,204.57M679.21,203.97L679.66,207.18L680.11,203.97M684.53,204.7L684.98,202.43L685.43,204.7M683.46,204.1L683.91,207.32L684.36,204.1M688.79,204.82L689.24,202.58L689.69,204.82M687.72,204.22L688.17,207.77L688.62,204.22M693.05,204.95L693.5,202.83L693.95,204.95M691.98,204.35L692.43,207.95L692.88,204.35M697.3,205.08L697.75,202.9L698.2,205.08M696.24,204.48L696.69,207.72L697.14,204.48M701.56,205.21L702.01,203.14L702.46,205.21M700.5,204.61L700.95,207.86L701.4,204.61M705.82,205.27L706.27,203.03L706.72,205.27M704.76,204.65L705.21,207.95L705.66,204.65M710.08,205.18L710.53,202.75L710.98,205.18M709.02,204.49L709.47,208.35L709.92,204.49M714.34,205.09L714.79,202.34L715.24,205.09M713.27,204.33L713.72,208.45L714.17,204.33M718.6,204.99L719.05,202.24L719.5,204.99M717.53,204.16L717.98,208.72L718.43,204.16M722.86,204.9L723.31,201.55L723.76,204.9M721.79,204L722.24,208.96L722.69,204M727.12,204.8L727.57,201.18L728.02,204.8M726.05,203.84L726.5,208.71L726.95,203.84M731.37,204.71L731.82,200.98L732.27,204.71M730.31,203.68L730.76,209.58L731.21,203.68M735.63,204.62L736.08,200.48L736.53,204.62M734.57,203.51L735.02,209.97L735.47,203.51M739.89,204.52L740.34,200.55L740.79,204.52M738.83,203.35L739.28,210.37L739.73,203.35M744.15,204.43L744.6,200.05L745.05,204.43M743.08,203.19L743.53,210.17L743.98,203.19M748.41,204.34L748.86,199.61L749.31,204.34M747.34,203.02L747.79,210.02L748.24,203.02M752.67,204.28L753.12,199.76L753.57,204.28M751.6,202.84L752.05,210.53L752.5,202.84M756.93,204.22L757.38,198.71L757.83,204.22M755.86,202.65L756.31,211.6L756.76,202.65M761.18,204.15L761.63,197.5L762.08,204.15M760.12,202.46L760.57,211.46L761.02,202.46M765.44,204.09L765.89,197.18L766.34,204.09M764.38,202.27L764.83,212.13L765.28,202.27M769.7,204.03L770.15,196.81L770.6,204.03M768.64,202.09L769.09,212.67L769.54,202.09M773.96,203.87L774.41,196.75L774.86,203.87M772.9,201.7L773.35,212.7L773.8,201.7M778.22,203.63L778.67,194.45L779.12,203.63M777.15,201.13L777.6,214.46L778.05,201.13" fill="none" stroke="#2828ff" stroke-width="0.9"/>
<polyline points="282.5,205.31 283.1,204.82 283.7,205.31 284.3,205.4 284.9,205.38 285.5,205.46 286.1,204.92 286.7,204.9 287.3,205.25 287.9,204.48 288.5,205.02 289.1,204.76 289.7,204.81 290.3,204.32 290.9,204.62 291.5,204.92 292.1,205.23 292.7,205.26 293.3,204.88 293.9,204.84 294.5,204.61 295.1,205.03 295.7,204.8 296.3,205.1 296.9,205.49 297.5,204.86 298.1,204.34 298.7,204.56 299.3,204.35 299.9,204.43 300.5,205.31 301.1,204.92 301.7,204.31 302.3,205.06 302.9,205.27 303.5,204.7 304.1,204.58 304.7,204.69 305.3,204.91 305.9,205.03 306.5,205.21 307.1,205.22 307.7,205.2 308.3,205.26 308.9,205.01 309.5,204.24 310.1,204.72 310.7,204.87 311.3,204.62 311.9,205.07 312.5,204.62 313.1,204.42 313.7,205.24 314.3,204.97 314.9,204.8 315.5,205.05 316.1,205.09 316.7,204.83 317.3,203.85 317.9,204.47 318.5,204.54 319.1,204.35 319.7,204.76 320.3,205.1 320.9,204.51 321.5,204.27 322.1,205.38 322.7,204.5 323.3,204.22 323.9,204.73 324.5,204.8 325.1,204.39 325.7,204.91 326.3,204.46 326.9,204.3 327.5,204.68 328.1,204.89 328.7,204.39 329.3,204.72 329.9,204.57 330.5,205.58 331.1,204.33 331.7,205.06 332.3,204.54 332.9,204.51 333.5,204.8 334.1,204.85 334.7,204.97 335.3,204.63 335.9,204.3 336.5,204.31 337.1,204.66 337.7,204.68 338.3,204.96 338.9,204.6 339.5,204.82 340.1,204.97 340.7,204.49 341.3,203.9 341.9,204 342.5,203.9 343.1,204.95 343.7,204.08 344.3,204.8 344.9,204.57 345.5,204.95 346.1,204.69 346.7,204.3 347.3,204.25 347.9,204.34 348.5,204.37 349.1,204.11 349.7,204.27 350.3,204.84 350.9,203.67 351.5,204.35 352.1,203.93 352.7,204.3 353.3,204.52 353.9,204.2 354.5,204.48 355.1,203.64 355.7,204.58 356.3,203.97 356.9,204.39 357.5,204.22 358.1,203.25 358.7,203.88 359.3,204.21 359.9,204.67 360.5,204.21 361.1,204.19 361.7,203.6 362.3,204.58 362.9,204.71 363.5,204.07 364.1,203.98 364.7,203.48 365.3,204.34 365.9,204.97 366.5,204.27 367.1,204.45 367.7,204.19 368.3,203.64 368.9,204.45 369.5,203.54 370.1,203.88 370.7,204.05 371.3,204.25 371.9,204.08 372.5,204.06 373.1,203.64 373.7,203.45 374.3,203.91 374.9,203.63 375.5,203.41 376.1,203.42 376.7,203.68 377.3,203.19 377.9,203.36 378.5,203.25 379.1,203.88 379.7,203.95 380.3,204.5 380.9,203.26 381.5,203.54 382.1,204.09 382.7,203.68 383.3,203.64 383.9,204.34 384.5,203.61 385.1,203.32 385.7,203.25 386.3,203.82 386.9,203.8 387.5,203.21 388.1,203.33 388.7,203.86 389.3,203.86 389.9,203.43 390.5,203.86 391.1,203.83 391.7,203 392.3,203.51 392.9,203.75 393.5,203.4 394.1,202.84 394.7,203.48 395.3,203.83 395.9,204.11 396.5,202.79 397.1,204.46 397.7,203.14 398.3,203.86 398.9,203.95 399.5,203.85 400.1,203.55 400.7,203.08 401.3,203.7 401.9,203.22 402.5,202.58 403.1,204.44 403.7,203.69 404.3,204.07 404.9,203.11 405.5,203.93 406.1,203.96 406.7,203.94 407.3,203.38 407.9,202.96 408.5,203.31 409.1,202.59 409.7,202.76 410.3,203.38 410.9,202.99 411.5,203.27 412.1,203.28 412.7,203.99 413.3,203.75 413.9,203.28 414.5,203.71 415.1,203 415.7,203.15 416.3,203.57 416.9,202.81 417.5,203.14 418.1,202.77 418.7,203.26 419.3,203.78 419.9,202.94 420.5,203.27 421.1,202.87 421.7,202.77 422.3,202.73 422.9,203.67 423.5,203.97 424.1,203.31 424.7,202.88 425.3,203.37 425.9,202.99 426.5,203.38 427.1,203.2 427.7,203.18 428.3,203.29 428.9,202.86 429.5,202.92 430.1,202.45 430.7,202.88 431.3,202.53 431.9,202.97 432.5,202.68 433.1,203.04 433.7,203.15 434.3,202.49 434.9,202.69 435.5,202.64 436.1,203.22 436.7,203.55 437.3,203.24 437.9,202.81 438.5,203.44 439.1,202.38 439.7,203.43 440.3,202.67 440.9,201.91 441.5,203.81 442.1,203.42 442.7,202.5 443.3,202.91 443.9,202.77 444.5,202.87 445.1,202.3 445.7,202.58 446.3,202.97 446.9,202.87 447.5,203.21 448.1,202.81 448.7,203.59 449.3,202.51 449.9,202.84 450.5,202.07 451.1,202.29 451.7,203.19 452.3,202.39 452.9,202.89 453.5,202.68 454.1,202.32 454.7,202.56 455.3,202.49 455.9,202.49 456.5,202.92 457.1,202.87 457.7,202.43 458.3,202.31 458.9,202.72 459.5,202.57 460.1,202.96 460.7,203.52 461.3,202.88 461.9,202.56 462.5,202.5 463.1,202.25 463.7,202.23 464.3,202.18 464.9,202.39 465.5,202.37 466.1,202.77 466.7,202.36 467.3,202.42 467.9,202.06 468.5,203.05 469.1,202.64 469.7,203.08 470.3,202.72 470.9,202.96 471.5,202.34 472.1,202.67 472.7,203.36 473.3,201.97 473.9,202.8 474.5,202.98 475.1,202.52 475.7,202.63 476.3,202.8 476.9,202.11 477.5,202.48 478.1,202.02 478.7,202.08 479.3,202.09 479.9,202.25 480.5,202.35 481.1,202.46 481.7,201.79 482.3,203 482.9,202.7 483.5,202.55 484.1,202.16 484.7,202.25 485.3,202.48 485.9,202.43 486.5,201.67 487.1,202.54 487.7,203.32 488.3,201.61 488.9,202.62 489.5,202.4 490.1,202.22 490.7,202.75 491.3,201.83 491.9,202.31 492.5,202.78 493.1,202.18 493.7,202.1 494.3,202.29 494.9,202.08 495.5,202.8 496.1,201.91 496.7,202.55 497.3,201.78 497.9,202.47 498.5,202.19 499.1,201.3 499.7,202.22 500.3,201.84 500.9,202.06 501.5,202.77 502.1,201.82 502.7,201.83 503.3,202.73 503.9,202.25 504.5,202.76 505.1,202.32 505.7,201.89 506.3,202.18 506.9,202.64 507.5,202.54 508.1,202.19 508.7,202.21 509.3,202.15 509.9,201.98 510.5,202.88 511.1,202.19 511.7,201.77 512.3,202.01 512.9,202.44 513.5,202.41 514.1,202.12 514.7,201.93 515.3,202.18 515.9,201.56 516.5,201.69 517.1,202.45 517.7,201.99 518.3,202.29 518.9,202.59 519.5,202.39 520.1,202.16 520.7,202.91 521.3,202.39 521.9,202.02 522.5,202.4 523.1,202.29 523.7,201.83 524.3,202.16 524.9,202.07 525.5,201.42 526.1,202.07 526.7,202.02 527.3,201.96 527.9,201.53 528.5,201.99 529.1,202.1 529.7,202.15 530.3,201.7 530.9,202.34 531.5,201.67 532.1,202.02 532.7,202.57 533.3,201.85 533.9,201.91 534.5,202.48 535.1,201.96 535.7,201.98 536.3,202.17 536.9,202.46 537.5,201.29 538.1,201.78 538.7,201.72 539.3,201.69 539.9,201.77 540.5,201.77 541.1,202.18 541.7,201.75 542.3,202.11 542.9,202.21 543.5,201.8 544.1,202.11 544.7,202.64 545.3,202.17 545.9,201.82 546.5,202.03 547.1,201.72 547.7,202.14 548.3,202.35 548.9,201.75 549.5,201.96 550.1,202.44 550.7,201.86 551.3,202.1 551.9,201.66 552.5,201.74 553.1,201.84 553.7,202.79 554.3,201.88 554.9,201.83 555.5,201.82 556.1,201.96 556.7,202.24 557.3,202.08 557.9,202.73 558.5,202.08 559.1,202.51 559.7,202.1 560.3,202.21 560.9,201.5 561.5,201.96 562.1,201.99 562.7,201.93 563.3,201.26 563.9,202.33 564.5,201.89 565.1,201.87 565.7,201.94 566.3,201.95 566.9,202.18 567.5,201.59 568.1,201.71 568.7,202.15 569.3,202.1 569.9,201.92 570.5,201.85 571.1,201.76 571.7,202.04 572.3,202.47 572.9,201.69 573.5,202.6 574.1,202.37 574.7,201.91 575.3,202.35 575.9,201.57 576.5,201.48 577.1,201.63 577.7,201.95 578.3,201.98 578.9,201.91 579.5,202.13 580.1,201.35 580.7,202.28 581.3,201.61 581.9,201.88 582.5,201.97 583.1,201.71 583.7,201.64 584.3,201.77 584.9,202.12 585.5,202.33 586.1,202.33 586.7,201.79 587.3,201.86 587.9,201.82 588.5,202.3 589.1,201.43 589.7,202.58 590.3,201.98 590.9,201.88 591.5,202.28 592.1,202.52 592.7,202.28 593.3,202.53 593.9,202.22 594.5,202.6 595.1,202.61 595.7,202.14 596.3,202.69 596.9,202.24 597.5,202.22 598.1,201.87 598.7,202.09 599.3,202.47 599.9,201.74 600.5,202.43 601.1,202.33 601.7,202.31 602.3,201.44 602.9,202.18 603.5,202.44 604.1,201.95 604.7,202.26 605.3,201.39 605.9,202.46 606.5,202 607.1,202.54 607.7,201.59 608.3,202.48 608.9,202.16 609.5,202.53 610.1,201.93 610.7,202.04 611.3,203.04 611.9,201.97 612.5,202.02 613.1,202.17 613.7,201.91 614.3,202.69 614.9,202.88 615.5,202.03 616.1,201.68 616.7,202.69 617.3,202.67 617.9,202.58 618.5,202.7 619.1,201.99 619.7,202.24 620.3,201.82 620.9,201.82 621.5,202.67 622.1,202.1 622.7,203.14 623.3,202.38 623.9,202.13 624.5,202.65 625.1,203.01 625.7,202.56 626.3,201.97 626.9,202.53 627.5,202.89 628.1,202.25 628.7,202.16 629.3,202.8 629.9,202.5 630.5,202.07 631.1,202.33 631.7,202.21 632.3,202.59 632.9,202.53 633.5,202.91 634.1,202.76 634.7,201.97 635.3,202.67 635.9,202.85 636.5,202.71 637.1,202.92 637.7,202.37 638.3,202.24 638.9,202.91 639.5,202.22 640.1,201.85 640.7,202.97 641.3,202.37 641.9,202.52 642.5,202.15 643.1,202.18 643.7,202.25 644.3,202.54 644.9,202.8 645.5,201.88 646.1,202.95 646.7,202.29 647.3,202.34 647.9,202.96 648.5,202.7 649.1,202.2 649.7,203.39 650.3,202.45 650.9,202.85 651.5,202.84 652.1,203.28 652.7,202.63 653.3,203.15 653.9,202.55 654.5,203.21 655.1,202.56 655.7,202.71 656.3,203.51 656.9,202.96 657.5,202.9 658.1,203.66 658.7,203.01 659.3,202.6 659.9,203.16 660.5,202.49 661.1,203.31 661.7,203.35 662.3,202.73 662.9,202.72 663.5,203.01 664.1,202.97 664.7,202.63 665.3,203.18 665.9,202.27 666.5,202.85 667.1,202.87 667.7,202.92 668.3,203.13 668.9,202.6 669.5,203.25 670.1,202.99 670.7,202.83 671.3,202.59 671.9,202.66 672.5,203.21 673.1,202.76 673.7,203.13 674.3,203.49 674.9,203.48 675.5,203.68 676.1,203.04 676.7,202.77 677.3,203.52 677.9,203.28 678.5,203.57 679.1,203.19 679.7,203.61 680.3,203.5 680.9,203.46 681.5,203.4 682.1,203.37 682.7,203.32 683.3,203.33 683.9,203.61 684.5,203.09 685.1,203.88 685.7,203.25 686.3,203.64 686.9,203.27 687.5,203.23 688.1,204.03 688.7,203.22 689.3,202.89 689.9,203.1 690.5,203.25 691.1,204.12 691.7,203.45 692.3,203.71 692.9,203.04 693.5,203.53 694.1,203.65 694.7,204.05 695.3,203.19 695.9,203.65 696.5,203.55 697.1,203.1 697.7,203.46 698.3,203.38 698.9,202.67 699.5,203.7 700.1,203.69 700.7,203.34 701.3,203.02 701.9,204.01 702.5,203.58 703.1,203.84 703.7,203.97 704.3,203.29 704.9,203.75 705.5,203.38 706.1,203.44 706.7,203.43 707.3,203.45 707.9,203.84 708.5,203.49 709.1,203.39 709.7,203.34 710.3,203.56 710.9,203.12 711.5,203.25 712.1,203.41 712.7,203.22 713.3,203.38 713.9,203.2 714.5,204.11 715.1,203.87 715.7,203.56 716.3,203.38 716.9,204.16 717.5,203.51 718.1,203.36 718.7,203.49 719.3,203.49 719.9,203.87 720.5,203.37 721.1,204.1 721.7,203.06 722.3,203.61 722.9,203.01 723.5,203.99 724.1,203.24 724.7,203.33 725.3,203.67 725.9,203.78 726.5,202.95 727.1,203.21 727.7,202.84 728.3,203.37 728.9,203.29 729.5,203.2 730.1,203.08 730.7,203.18 731.3,203.05 731.9,203.49 732.5,203.83 733.1,202.62 733.7,203.25 734.3,203.14 734.9,203.46 735.5,202.95 736.1,203.23 736.7,202.91 737.3,203.51 737.9,203.3 738.5,203.21 739.1,203.39 739.7,203.17 740.3,202.71 740.9,203.46 741.5,203.35 742.1,203.19 742.7,203.58 743.3,203.66 743.9,202.85 744.5,202.95 745.1,203.76 745.7,203.72 746.3,202.96 746.9,202.8 747.5,202.98 748.1,203.03 748.7,202.65 749.3,203.21 749.9,202.74 750.5,202.77 751.1,203.51 751.7,202.94 752.3,203.15 752.9,203.39 753.5,203.46 754.1,203.05 754.7,203.18 755.3,202.87 755.9,203.77 756.5,203.38 757.1,202.76 757.7,203.15 758.3,203.39 758.9,203.31 759.5,203.77 760.1,203.61 760.7,202.94 761.3,203.09 761.9,202.67 762.5,203.2 763.1,203.16 763.7,204.05 764.3,203.14 764.9,202.37 765.5,202.86 766.1,203.13 766.7,202.65 767.3,202.78 767.9,202.95 768.5,203.2 769.1,203.02 769.7,202.76 770.3,203.34 770.9,202.87 771.5,202.88 772.1,202.57 772.7,202.78 773.3,203.28 773.9,202.48 774.5,203.02 775.1,203.29 775.7,202.9 776.3,203.11 776.9,202.64 777.5,203.48 778.1,203.4 778.7,203.1 779.3,202.4 779.9,202.64 780.5,203.35 781.1,203.6" fill="none" stroke="#ff1818" stroke-width="1.25"/>
<rect x="282.5" y="21.7" width="498.70000000000005" height="335.8" fill="none" stroke="#000" stroke-width="1.6"/>
<text transform="translate(282.5,371.6) scale(1,1.08)" font-size="15.2" text-anchor="middle" font-family="Liberation Serif, Times New Roman, serif" fill="#000" stroke="#000" stroke-width="0.22">0</text>
<text transform="translate(349.89,371.6) scale(1,1.08)" font-size="15.2" text-anchor="middle" font-family="Liberation Serif, Times New Roman, serif" fill="#000" stroke="#000" stroke-width="0.22">5000</text>
<text transform="translate(417.28,371.6) scale(1,1.08)" font-size="15.2" text-anchor="middle" font-family="Liberation Serif, Times New Roman, serif" fill="#000" stroke="#000" stroke-width="0.22">10000</text>
<text transform="translate(484.68,371.6) scale(1,1.08)" font-size="15.2" text-anchor="middle" font-family="Liberation Serif, Times New Roman, serif" fill="#000" stroke="#000" stroke-width="0.22">15000</text>
<text transform="translate(552.07,371.6) scale(1,1.08)" font-size="15.2" text-anchor="middle" font-family="Liberation Serif, Times New Roman, serif" fill="#000" stroke="#000" stroke-width="0.22">20000</text>
<text transform="translate(619.46,371.6) scale(1,1.08)" font-size="15.2" text-anchor="middle" font-family="Liberation Serif, Times New Roman, serif" fill="#000" stroke="#000" stroke-width="0.22">25000</text>
<text transform="translate(686.85,371.6) scale(1,1.08)" font-size="15.2" text-anchor="middle" font-family="Liberation Serif, Times New Roman, serif" fill="#000" stroke="#000" stroke-width="0.22">30000</text>
<text transform="translate(754.24,371.6) scale(1,1.08)" font-size="15.2" text-anchor="middle" font-family="Liberation Serif, Times New Roman, serif" fill="#000" stroke="#000" stroke-width="0.22">35000</text>
<path d="M282.5,357.5V351.5M316.2,357.5V354M349.89,357.5V351.5M383.59,357.5V354M417.28,357.5V351.5M450.98,357.5V354M484.68,357.5V351.5M518.37,357.5V354M552.07,357.5V351.5M585.76,357.5V354M619.46,357.5V351.5M653.16,357.5V354M686.85,357.5V351.5M720.55,357.5V354M754.24,357.5V351.5" stroke="#000" stroke-width="1.5" fill="none"/>
<text x="275.5" y="332.37" font-size="16" text-anchor="end" font-family="Liberation Serif, Times New Roman, serif" fill="#000" stroke="#000" stroke-width="0.22">-20</text>
<text x="275.5" y="271.32" font-size="16" text-anchor="end" font-family="Liberation Serif, Times New Roman, serif" fill="#000" stroke="#000" stroke-width="0.22">-10</text>
<text x="275.5" y="210.26" font-size="16" text-anchor="end" font-family="Liberation Serif, Times New Roman, serif" fill="#000" stroke="#000" stroke-width="0.22">0</text>
<text x="275.5" y="149.21" font-size="16" text-anchor="end" font-family="Liberation Serif, Times New Roman, serif" fill="#000" stroke="#000" stroke-width="0.22">10</text>
<text x="275.5" y="88.15" font-size="16" text-anchor="end" font-family="Liberation Serif, Times New Roman, serif" fill="#000" stroke="#000" stroke-width="0.22">20</text>
<text x="275.5" y="27.1" font-size="16" text-anchor="end" font-family="Liberation Serif, Times New Roman, serif" fill="#000" stroke="#000" stroke-width="0.22">30</text>
<path d="M282.5,357.5H286M282.5,326.97H288.5M282.5,296.45H286M282.5,265.92H288.5M282.5,235.39H286M282.5,204.86H288.5M282.5,174.34H286M282.5,143.81H288.5M282.5,113.28H286M282.5,82.75H288.5M282.5,52.23H286M282.5,21.7H288.5" stroke="#000" stroke-width="1.5" fill="none"/>
<line x1="292" y1="33.5" x2="324" y2="33.5" stroke="#b8b8b8" stroke-width="1.5"/>
<line x1="292" y1="50.8" x2="324" y2="50.8" stroke="#ff8080" stroke-width="1.5"/>
<line x1="511.4" y1="31.8" x2="543.4" y2="31.8" stroke="#9d9dff" stroke-width="1.8"/>
<text x="327.1" y="37.8" font-size="14.15" font-family="Liberation Serif, Times New Roman, serif" fill="#000" stroke="#000" stroke-width="0.22">No compensation</text>
<text x="327.1" y="55.5" font-size="14.15" font-family="Liberation Serif, Times New Roman, serif" fill="#000" stroke="#000" stroke-width="0.22">Real-time compensation</text>
<text x="546.4" y="36.6" font-size="14.05" font-family="Liberation Serif, Times New Roman, serif" fill="#000" stroke="#000" stroke-width="0.22">Non-real-time compensation</text>
<text x="739.3" y="46" font-size="17" font-family="Liberation Serif, Times New Roman, serif" fill="#000" stroke="#000" stroke-width="0.22" xml:space="preserve">( a )</text>
<text x="544" y="393.6" font-size="16.8" text-anchor="middle" font-family="Liberation Serif, Times New Roman, serif" fill="#000" stroke="#000" stroke-width="0.22">Displacement ( nm )</text>
<text transform="translate(249.8,182) rotate(-90)" x="0" y="0" font-size="17.2" text-anchor="middle" font-family="Liberation Serif, Times New Roman, serif" fill="#000" stroke="#000" stroke-width="0.22">Residual error ( nm )</text>
<polyline points="61.4,601.4 65.5,611 70.3,608.3 79.1,612.4 83.9,601.2 88.3,610.1 92.8,599.4 96.9,600.4 102,610.6 106.5,598.4 111.3,605.8 118.8,602.5 124.3,603.9 129.7,601.7 133.8,610.3 138.6,603.5 142,606.9 147.5,603.1 151.6,604.2 156.8,616.2 161.2,605.8 166,601.7 170.7,602.8 175.5,610.3 183.1,608.9 188.5,601.2 193.3,605.3 198.1,613.5 201.8,611.3 206.6,606.6 210.7,606.6 214.8,607.2 219.6,603.9 224.8,599.8 229.2,609.6 234.2,619.2 238.8,604.2 243.1,594.3 247.6,606.2 252.4,611.7 257.2,604.2 263.4,605.3 269.5,609.6 275,615.4 279.8,609 284.1,592.1 288.7,602.8 292.8,608.6 297.8,616.8 302.3,607.2 307.1,604.2 311.9,602.1 316,609 320.8,610.3 325.6,603.5 329.7,605.8 334.4,592.6 338.9,606.9 343.3,617.2 348.5,610.3 352.3,595.7 356.7,603.5 361.4,613.8 365.8,617.6 370.3,608.6 375.1,613.5 379.9,606.6 384.4,598 388.8,608.3 393.6,618.1 398.1,591.2 402.5,593.9 407.2,600.8 411.8,615.1 415.9,616.2 420.9,602.8 425,601.7 429.8,598.5 434.5,620 441.5,606.8 448.3,588.2 453.1,593.5 456.8,610.1 461.5,614.5 470.6,597.9 475,616.1 484.4,617.3 493.2,580.3" fill="none" stroke="#3434ff" stroke-width="1" stroke-linejoin="round"/>
<polyline points="61.2,606.42 62.4,607.1 63.6,605.67 64.8,605.94 66,606.05 67.2,606.33 68.4,604.83 69.6,606.64 70.8,606.89 72,605 73.2,604.81 74.4,606.03 75.6,605.18 76.8,603.8 78,606.1 79.2,605.52 80.4,604.95 81.6,607.1 82.8,605.84 84,605.4 85.2,606.27 86.4,605.65 87.6,606.1 88.8,607.26 90,606.85 91.2,607.22 92.4,609.11 93.6,608.8 94.8,608.68 96,608.03 97.2,607.56 98.4,607.85 99.6,606.3 100.8,607.27 102,604.75 103.2,604.88 104.4,603.63 105.6,604.01 106.8,604.26 108,604.62 109.2,603.44 110.4,604.35 111.6,604.48 112.8,604.6 114,604.67 115.2,605.93 116.4,604.78 117.6,606.35 118.8,606.48 120,606.16 121.2,606.09 122.4,605.47 123.6,607.39 124.8,604.46 126,606.11 127.2,604.87 128.4,603.63 129.6,603.37 130.8,605.35 132,606.2 133.2,604.54 134.4,605.35 135.6,606.8 136.8,606.9 138,608.78 139.2,607.49 140.4,608.96 141.6,608.25 142.8,610.55 144,607.81 145.2,606.07 146.4,607.01 147.6,606.37 148.8,607.29 150,605.11 151.2,604.88 152.4,604.86 153.6,605.12 154.8,603.41 156,604 157.2,604.08 158.4,603.95 159.6,604.71 160.8,605.15 162,604.91 163.2,606.55 164.4,604.32 165.6,605.96 166.8,605.52 168,604.45 169.2,603.67 170.4,604.03 171.6,604.55 172.8,604.76 174,604.42 175.2,604.94 176.4,603.86 177.6,604.93 178.8,604.06 180,606.28 181.2,606.3 182.4,606.35 183.6,607.83 184.8,607.6 186,605.09 187.2,607.36 188.4,606.36 189.6,608.37 190.8,609.15 192,606.47 193.2,606.49 194.4,605.82 195.6,605.81 196.8,605.53 198,605.51 199.2,603.3 200.4,604.72 201.6,603.3 202.8,604.75 204,605.95 205.2,606.16 206.4,605.46 207.6,606.18 208.8,606.88 210,607.51 211.2,608.72 212.4,607.21 213.6,608.85 214.8,609.27 216,609.09 217.2,608.22 218.4,608.22 219.6,606.65 220.8,606.14 222,605.12 223.2,606.01 224.4,603.47 225.6,606.08 226.8,605.15 228,605.36 229.2,605.07 230.4,604.89 231.6,606.49 232.8,606.75 234,608.13 235.2,606.56 236.4,608.06 237.6,606.51 238.8,605.45 240,604.42 241.2,604.11 242.4,603.63 243.6,603.86 244.8,604.05 246,603.96 247.2,603.62 248.4,605.06 249.6,605.17 250.8,606.54 252,608.4 253.2,607.93 254.4,607.62 255.6,607.03 256.8,607.58 258,607.66 259.2,608.61 260.4,606.63 261.6,606.38 262.8,605.01 264,604.68 265.2,604.8 266.4,602.74 267.6,603.62 268.8,603.88 270,605.76 271.2,604.96 272.4,605.49 273.6,605.45 274.8,605.24 276,606.46 277.2,607.84 278.4,604.98 279.6,606.25 280.8,605.32 282,603.86 283.2,604.03 284.4,603.62 285.6,603.15 286.8,605.62 288,603.24 289.2,605.46 290.4,605.92 291.6,605.79 292.8,606.9 294,608.01 295.2,608.03 296.4,608.8 297.6,609.49 298.8,607.14 300,609.46 301.2,609.74 302.4,608.46 303.6,608.17 304.8,605.87 306,606.01 307.2,604.66 308.4,603.99 309.6,604.33 310.8,602.17 312,603.05 313.2,602.68 314.4,604.96 315.6,605.91 316.8,605.49 318,605.65 319.2,607.78 320.4,605.63 321.6,605.7 322.8,605.7 324,607.03 325.2,607.54 326.4,606.01 327.6,604.76 328.8,604.52 330,605.18 331.2,603.23 332.4,604.54 333.6,604.05 334.8,603.25 336,604.37 337.2,605.14 338.4,606.43 339.6,605.16 340.8,607.52 342,607.04 343.2,607.44 344.4,608.12 345.6,607.44 346.8,606.42 348,605.52 349.2,605.57 350.4,606.93 351.6,606.61 352.8,604.9 354,604.58 355.2,602.58 356.4,602.18 357.6,601.93 358.8,601 360,601.15 361.2,602.06 362.4,601.83 363.6,602.3 364.8,604.88 366,605.88 367.2,608.05 368.4,607.6 369.6,607.7 370.8,608.34 372,607.62 373.2,606.59 374.4,606.13 375.6,606.33 376.8,605.59 378,605.44 379.2,602.96 380.4,603.69 381.6,603.43 382.8,603.62 384,602.9 385.2,603.14 386.4,605.14 387.6,605.71 388.8,605.73 390,607.91 391.2,607.96 392.4,607.09 393.6,608.45 394.8,607.07 396,607.54 397.2,605.62 398.4,604.26 399.6,603.67 400.8,602.46 402,602.9 403.2,602.82 404.4,602.65 405.6,602.14 406.8,599.98 408,604.17 409.2,604.06 410.4,607.04 411.6,608.15 412.8,607.65 414,607.3 415.2,607.59 416.4,607.77 417.6,607.46 418.8,605.85 420,604.01 421.2,605.23 422.4,603.97 423.6,604.33 424.8,603.07 426,602.95 427.2,602.4 428.4,602.7 429.6,604.8 430.8,606.18 432,605.61 433.2,605.65 434.4,607.6 435.6,606.19 436.8,606.18 438,607.5 439.2,607.22 440.4,606.8 441.6,605.35 442.8,606.42 444,603.96 445.2,603.47 446.4,603.12 447.6,602.38 448.8,602.63 450,604.12 451.2,604.3 452.4,604.01 453.6,603.67 454.8,604.07 456,605.5 457.2,605.26 458.4,607.62 459.6,607.88 460.8,608.83 462,607.06 463.2,605.65 464.4,605.13 465.6,602.84 466.8,604.13 468,603.6 469.2,603.61 470.4,603.27 471.6,603.56 472.8,603.59 474,604.24 475.2,605.48 476.4,604.58 477.6,606.02 478.8,606.3 480,609.21 481.2,608.97 482.4,608.56 483.6,607.1 484.8,608.13 486,607.14 487.2,606.22 488.4,604.85 489.6,604.27 490.8,602.49 492,602.33 493.2,600.78 493.4,600.6" fill="none" stroke="#ff2020" stroke-width="1"/>
<rect x="61.2" y="417.6" width="432.2" height="315.5" fill="none" stroke="#000" stroke-width="1.6"/>
<text x="61.2" y="747.4" font-size="16" text-anchor="middle" font-family="Liberation Serif, Times New Roman, serif" fill="#000" stroke="#000" stroke-width="0.22">0</text>
<text x="133.23" y="747.4" font-size="16" text-anchor="middle" font-family="Liberation Serif, Times New Roman, serif" fill="#000" stroke="#000" stroke-width="0.22">500</text>
<text x="205.27" y="747.4" font-size="16" text-anchor="middle" font-family="Liberation Serif, Times New Roman, serif" fill="#000" stroke="#000" stroke-width="0.22">1000</text>
<text x="277.3" y="747.4" font-size="16" text-anchor="middle" font-family="Liberation Serif, Times New Roman, serif" fill="#000" stroke="#000" stroke-width="0.22">1500</text>
<text x="349.33" y="747.4" font-size="16" text-anchor="middle" font-family="Liberation Serif, Times New Roman, serif" fill="#000" stroke="#000" stroke-width="0.22">2000</text>
<text x="421.37" y="747.4" font-size="16" text-anchor="middle" font-family="Liberation Serif, Times New Roman, serif" fill="#000" stroke="#000" stroke-width="0.22">2500</text>
<text x="493.4" y="747.4" font-size="16" text-anchor="middle" font-family="Liberation Serif, Times New Roman, serif" fill="#000" stroke="#000" stroke-width="0.22">3000</text>
<path d="M61.2,733.1V727.1M97.22,733.1V729.6M133.23,733.1V727.1M169.25,733.1V729.6M205.27,733.1V727.1M241.28,733.1V729.6M277.3,733.1V727.1M313.32,733.1V729.6M349.33,733.1V727.1M385.35,733.1V729.6M421.37,733.1V727.1M457.38,733.1V729.6M493.4,733.1V727.1" stroke="#000" stroke-width="1.5" fill="none"/>
<text transform="translate(54.6,738.2) scale(1,1.04)" font-size="16.5" text-anchor="end" font-family="Liberation Serif, Times New Roman, serif" fill="#000" stroke="#000" stroke-width="0.22">-6</text>
<text transform="translate(54.6,675.1) scale(1,1.04)" font-size="16.5" text-anchor="end" font-family="Liberation Serif, Times New Roman, serif" fill="#000" stroke="#000" stroke-width="0.22">-3</text>
<text transform="translate(54.6,612) scale(1,1.04)" font-size="16.5" text-anchor="end" font-family="Liberation Serif, Times New Roman, serif" fill="#000" stroke="#000" stroke-width="0.22">0</text>
<text transform="translate(54.6,548.9) scale(1,1.04)" font-size="16.5" text-anchor="end" font-family="Liberation Serif, Times New Roman, serif" fill="#000" stroke="#000" stroke-width="0.22">3</text>
<text transform="translate(54.6,485.8) scale(1,1.04)" font-size="16.5" text-anchor="end" font-family="Liberation Serif, Times New Roman, serif" fill="#000" stroke="#000" stroke-width="0.22">6</text>
<text transform="translate(54.6,422.7) scale(1,1.04)" font-size="16.5" text-anchor="end" font-family="Liberation Serif, Times New Roman, serif" fill="#000" stroke="#000" stroke-width="0.22">9</text>
<path d="M61.2,733.1H67.2M61.2,701.55H64.7M61.2,670H67.2M61.2,638.45H64.7M61.2,606.9H67.2M61.2,575.35H64.7M61.2,543.8H67.2M61.2,512.25H64.7M61.2,480.7H67.2M61.2,449.15H64.7M61.2,417.6H67.2" stroke="#000" stroke-width="1.5" fill="none"/>
<line x1="70.3" y1="429" x2="101.9" y2="429" stroke="#9d9dff" stroke-width="1.5"/>
<line x1="70.3" y1="446.6" x2="101.9" y2="446.6" stroke="#ff8c8c" stroke-width="1.5"/>
<text x="105.9" y="434.4" font-size="14.05" font-family="Liberation Serif, Times New Roman, serif" fill="#000" stroke="#000" stroke-width="0.22">Non-real-time compensation</text>
<text x="105.9" y="451.3" font-size="14.05" font-family="Liberation Serif, Times New Roman, serif" fill="#000" stroke="#000" stroke-width="0.22">Real-time compensation</text>
<text x="454.8" y="441.7" font-size="17.5" font-family="Liberation Serif, Times New Roman, serif" fill="#000" stroke="#000" stroke-width="0.22" xml:space="preserve">( b )</text>
<text x="287.5" y="768.1" font-size="17" text-anchor="middle" font-family="Liberation Serif, Times New Roman, serif" fill="#000" stroke="#000" stroke-width="0.22">Displacement ( nm )</text>
<text transform="translate(30,572) rotate(-90)" x="0" y="0" font-size="17.8" text-anchor="middle" font-family="Liberation Serif, Times New Roman, serif" fill="#000" stroke="#000" stroke-width="0.22">Residual error ( nm )</text>
<polyline points="555.3,490 556.6,465.6 558.4,483.6 565.6,698 570.7,710.3 579.8,518.6 589.2,731.7 593.7,720.5 601.2,493.8 603,475.8 604.8,493.8 612,692 616.5,709.3 625.8,511.8 635,729 639.5,706 647.2,486.3 649,468.3 650.8,486.3 657.8,696 662.9,718.4 672,510.8 681.2,730.6 685.9,715.4 693.2,486.3 695,468.3 696.8,486.3 704.1,700.1 708.5,716 718.3,519.6 727.5,723.1 732.2,713.3 739.3,490.1 741.1,472.1 742.9,490.1 750.5,697 755,712.3 764.1,522.6 773.7,732.7 778.4,720.5 785.3,472 787.1,454 788.9,472 796.7,702.1 801.2,727 810.1,518.6 819.7,729.6 824.6,708.2 831.5,485.7 833.3,467.7 835.1,485.7 842,693 847.1,710.3 856.3,514.1 865.4,725.5 870.5,710.3 877.5,486.3 879.3,468.3 881.1,486.3 888.2,699.1 893.3,707.2 902.3,522.2 911.7,716.8 916.3,709.3 923.7,497.5 925.5,479.5 927.3,497.5 934.7,691 939.3,707.2 948.5,514.1 957.7,717.4 962.7,702.1 969.7,501.3 971.5,483.3 973.3,501.3 980.5,684.8 985.5,702.1 992.6,540" fill="none" stroke="#3434ff" stroke-width="1" stroke-linejoin="round"/>
<polyline points="555.3,591.67 556.4,592.21 557.5,592.34 558.6,593.74 559.7,593.27 560.8,594.11 561.9,593.96 563,593.48 564.1,595.32 565.2,593.62 566.3,594.89 567.4,594.56 568.5,592.78 569.6,593.23 570.7,593.45 571.8,593.07 572.9,592.62 574,593.99 575.1,593.05 576.2,593.38 577.3,592.57 578.4,592.99 579.5,592 580.6,592.58 581.7,593.07 582.8,592.64 583.9,592.23 585,591.73 586.1,592.73 587.2,592.88 588.3,592.45 589.4,592.12 590.5,593.25 591.6,594.88 592.7,592.74 593.8,593.33 594.9,593.44 596,591.15 597.1,593.3 598.2,592.63 599.3,594.31 600.4,593 601.5,592.58 602.6,593.03 603.7,593.33 604.8,593.15 605.9,594.04 607,593.49 608.1,594.88 609.2,596.17 610.3,597.42 611.4,596.19 612.5,595.63 613.6,596.14 614.7,595.79 615.8,596.09 616.9,595.32 618,594.02 619.1,593.98 620.2,593.58 621.3,593.34 622.4,592.92 623.5,591.79 624.6,590.61 625.7,592.03 626.8,591.21 627.9,593.16 629,593.37 630.1,592.3 631.2,594.46 632.3,594.87 633.4,594.23 634.5,595.43 635.6,595.54 636.7,593.02 637.8,594.76 638.9,594.23 640,594.16 641.1,594.55 642.2,593.22 643.3,593.33 644.4,593.14 645.5,593.2 646.6,593.72 647.7,592.64 648.8,593 649.9,594.5 651,594.18 652.1,594.75 653.2,593.13 654.3,594.22 655.4,594.6 656.5,595.27 657.6,594.62 658.7,595.55 659.8,594.48 660.9,594.25 662,593.96 663.1,594.23 664.2,593 665.3,594.05 666.4,593.39 667.5,593.01 668.6,592.78 669.7,593.03 670.8,593.29 671.9,593.1 673,592.51 674.1,592.5 675.2,591.45 676.3,591.92 677.4,590.73 678.5,589.64 679.6,592.92 680.7,592.49 681.8,592.01 682.9,593.34 684,593.34 685.1,596.28 686.2,595.16 687.3,593.59 688.4,595.37 689.5,594.69 690.6,596.63 691.7,594.33 692.8,593.46 693.9,595.22 695,594.61 696.1,594.28 697.2,592.61 698.3,594.39 699.4,595.1 700.5,591.95 701.6,594.14 702.7,592.67 703.8,594.93 704.9,593.32 706,592.74 707.1,593.7 708.2,593.16 709.3,592.19 710.4,593.14 711.5,592.01 712.6,590.84 713.7,593.74 714.8,591.69 715.9,591.33 717,591.94 718.1,590.27 719.2,590.28 720.3,590.81 721.4,591.13 722.5,591.99 723.6,593.21 724.7,592.31 725.8,593.47 726.9,593.93 728,592.97 729.1,594.4 730.2,593.84 731.3,595.51 732.4,594.97 733.5,594.57 734.6,593.43 735.7,594.54 736.8,593.78 737.9,594.9 739,594.19 740.1,593.58 741.2,594.89 742.3,594.62 743.4,593.46 744.5,594.76 745.6,593.48 746.7,593.36 747.8,593.6 748.9,592.79 750,592.93 751.1,593.07 752.2,594.42 753.3,594.4 754.4,592.99 755.5,594.49 756.6,593.17 757.7,593.5 758.8,593.91 759.9,593.43 761,595.13 762.1,593.45 763.2,592.37 764.3,594.43 765.4,593.13 766.5,593.28 767.6,591.19 768.7,594.45 769.8,594.37 770.9,594.42 772,594.54 773.1,595.04 774.2,593.59 775.3,594.31 776.4,592.9 777.5,593.15 778.6,594.21 779.7,593.61 780.8,592.17 781.9,593.59 783,593.38 784.1,593.1 785.2,594.33 786.3,593.89 787.4,593.18 788.5,593.77 789.6,596.3 790.7,593.9 791.8,595.38 792.9,595.13 794,594.59 795.1,592.54 796.2,592.71 797.3,592.52 798.4,593.05 799.5,592.23 800.6,592.15 801.7,594.22 802.8,594.64 803.9,594.39 805,593.94 806.1,595.01 807.2,594.71 808.3,595.22 809.4,593.48 810.5,594.51 811.6,594.22 812.7,593.39 813.8,594.38 814.9,593.35 816,591.92 817.1,591.49 818.2,589.1 819.3,590.55 820.4,591.3 821.5,591.54 822.6,592.54 823.7,591.08 824.8,591.3 825.9,593.26 827,593.99 828.1,595.88 829.2,595.23 830.3,594.6 831.4,596.32 832.5,595.37 833.6,595.24 834.7,598.64 835.8,596.25 836.9,596.01 838,595.33 839.1,595.77 840.2,593.99 841.3,594.18 842.4,591.83 843.5,591.56 844.6,593.9 845.7,594.02 846.8,593.33 847.9,593.18 849,593.21 850.1,592.61 851.2,594.47 852.3,593.85 853.4,593.81 854.5,593.79 855.6,594.4 856.7,594.05 857.8,594.32 858.9,592.84 860,593.87 861.1,594.89 862.2,592.41 863.3,592.41 864.4,592.91 865.5,593.18 866.6,593.13 867.7,591.55 868.8,593.46 869.9,592.33 871,592.83 872.1,594.15 873.2,593.69 874.3,594.79 875.4,596.46 876.5,594.2 877.6,593.79 878.7,592.14 879.8,591.98 880.9,591.28 882,591.35 883.1,590.54 884.2,590.52 885.3,590.52 886.4,589.53 887.5,589.41 888.6,590.01 889.7,592.01 890.8,592.25 891.9,593.57 893,594.14 894.1,593.58 895.2,594.94 896.3,593.8 897.4,597.33 898.5,597.01 899.6,596.01 900.7,595.04 901.8,596.06 902.9,594.04 904,594.7 905.1,595.71 906.2,594.96 907.3,594.27 908.4,595.05 909.5,593.08 910.6,593.76 911.7,592.75 912.8,592.09 913.9,593.09 915,592.14 916.1,594.67 917.2,592.9 918.3,595.18 919.4,592.93 920.5,594.51 921.6,593.31 922.7,593.57 923.8,595.15 924.9,595.95 926,594.76 927.1,597.11 928.2,595.24 929.3,595.31 930.4,594.84 931.5,594.35 932.6,591.77 933.7,593.9 934.8,593.14 935.9,592.43 937,592.03 938.1,591.57 939.2,591.92 940.3,593.53 941.4,592.9 942.5,592.51 943.6,593.33 944.7,595.33 945.8,594.15 946.9,594.28 948,596.16 949.1,595.79 950.2,595.79 951.3,595.6 952.4,594.9 953.5,594.75 954.6,594.86 955.7,594.62 956.8,594.64 957.9,594.35 959,593.64 960.1,593.19 961.2,591.76 962.3,590.6 963.4,592.56 964.5,592.87 965.6,593.77 966.7,594.73 967.8,594.61 968.9,595.38 970,596.84 971.1,597.67 972.2,597.72 973.3,597.83 974.4,596.31 975.5,594.71 976.6,594.61 977.7,595.13 978.8,592.13 979.9,592.65 981,592.42 982.1,592.77 983.2,591.16 984.3,593.68 985.4,592.42 986.5,592.37 987.6,592.96 988.7,594.22 989.8,594.37 990.9,594.78 992,596.55" fill="none" stroke="#ff2020" stroke-width="1"/>
<rect x="555.3" y="414.1" width="437.30000000000007" height="319.1" fill="none" stroke="#000" stroke-width="1.8"/>
<text x="555.3" y="748.6" font-size="17.1" text-anchor="middle" font-family="Liberation Serif, Times New Roman, serif" fill="#000" stroke="#000" stroke-width="0.22">15000</text>
<text x="628.18" y="748.6" font-size="17.1" text-anchor="middle" font-family="Liberation Serif, Times New Roman, serif" fill="#000" stroke="#000" stroke-width="0.22">15500</text>
<text x="701.07" y="748.6" font-size="17.1" text-anchor="middle" font-family="Liberation Serif, Times New Roman, serif" fill="#000" stroke="#000" stroke-width="0.22">16000</text>
<text x="773.95" y="748.6" font-size="17.1" text-anchor="middle" font-family="Liberation Serif, Times New Roman, serif" fill="#000" stroke="#000" stroke-width="0.22">16500</text>
<text x="846.83" y="748.6" font-size="17.1" text-anchor="middle" font-family="Liberation Serif, Times New Roman, serif" fill="#000" stroke="#000" stroke-width="0.22">17000</text>
<text x="919.72" y="748.6" font-size="17.1" text-anchor="middle" font-family="Liberation Serif, Times New Roman, serif" fill="#000" stroke="#000" stroke-width="0.22">17500</text>
<text x="992.6" y="748.6" font-size="17.1" text-anchor="middle" font-family="Liberation Serif, Times New Roman, serif" fill="#000" stroke="#000" stroke-width="0.22">18000</text>
<path d="M555.3,733.2V726.2M591.74,733.2V729.2M628.18,733.2V726.2M664.62,733.2V729.2M701.07,733.2V726.2M737.51,733.2V729.2M773.95,733.2V726.2M810.39,733.2V729.2M846.83,733.2V726.2M883.27,733.2V729.2M919.72,733.2V726.2M956.16,733.2V729.2M992.6,733.2V726.2" stroke="#000" stroke-width="1.5" fill="none"/>
<text transform="translate(548,739.2) scale(1,1.12)" font-size="17.6" text-anchor="end" font-family="Liberation Serif, Times New Roman, serif" fill="#000" stroke="#000" stroke-width="0.22">-6</text>
<text transform="translate(548,675.38) scale(1,1.12)" font-size="17.6" text-anchor="end" font-family="Liberation Serif, Times New Roman, serif" fill="#000" stroke="#000" stroke-width="0.22">-3</text>
<text transform="translate(548,611.56) scale(1,1.12)" font-size="17.6" text-anchor="end" font-family="Liberation Serif, Times New Roman, serif" fill="#000" stroke="#000" stroke-width="0.22">0</text>
<text transform="translate(548,547.74) scale(1,1.12)" font-size="17.6" text-anchor="end" font-family="Liberation Serif, Times New Roman, serif" fill="#000" stroke="#000" stroke-width="0.22">3</text>
<text transform="translate(548,483.92) scale(1,1.12)" font-size="17.6" text-anchor="end" font-family="Liberation Serif, Times New Roman, serif" fill="#000" stroke="#000" stroke-width="0.22">6</text>
<text transform="translate(548,420.1) scale(1,1.12)" font-size="17.6" text-anchor="end" font-family="Liberation Serif, Times New Roman, serif" fill="#000" stroke="#000" stroke-width="0.22">9</text>
<path d="M555.3,733.2H562.3M555.3,701.29H559.3M555.3,669.38H562.3M555.3,637.47H559.3M555.3,605.56H562.3M555.3,573.65H559.3M555.3,541.74H562.3M555.3,509.83H559.3M555.3,477.92H562.3M555.3,446.01H559.3M555.3,414.1H562.3" stroke="#000" stroke-width="1.5" fill="none"/>
<line x1="564.8" y1="426.2" x2="601" y2="426.2" stroke="#9d9dff" stroke-width="1.6"/>
<line x1="564.8" y1="445.5" x2="601" y2="445.5" stroke="#ff8c8c" stroke-width="1.6"/>
<text x="604.6" y="431.6" font-size="15.85" font-family="Liberation Serif, Times New Roman, serif" fill="#000" stroke="#000" stroke-width="0.22">Non-real-time compensation</text>
<text x="604.6" y="451.1" font-size="15.85" font-family="Liberation Serif, Times New Roman, serif" fill="#000" stroke="#000" stroke-width="0.22">Real-time compensation</text>
<text x="953" y="439" font-size="19" font-family="Liberation Serif, Times New Roman, serif" fill="#000" stroke="#000" stroke-width="0.22" xml:space="preserve">( c )</text>
<text x="784.5" y="768.8" font-size="18.7" text-anchor="middle" font-family="Liberation Serif, Times New Roman, serif" fill="#000" stroke="#000" stroke-width="0.22">Displacement ( nm )</text>
<text transform="translate(530,567.5) rotate(-90)" x="0" y="0" font-size="19.5" text-anchor="middle" font-family="Liberation Serif, Times New Roman, serif" fill="#000" stroke="#000" stroke-width="0.22">Residual error ( nm )</text>
</svg>
</body></html>
